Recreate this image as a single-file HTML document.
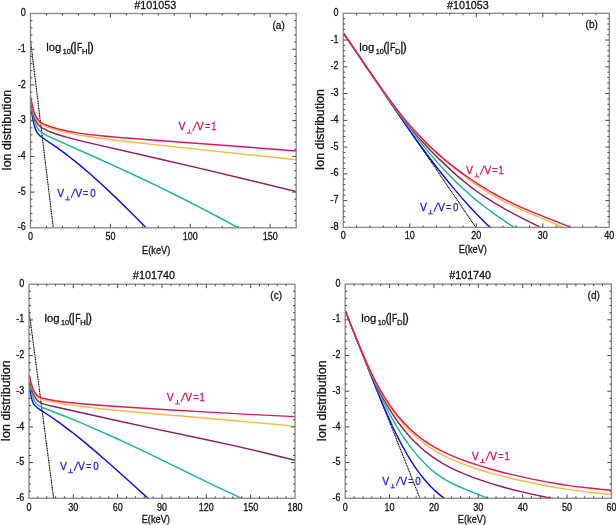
<!DOCTYPE html><html><head><meta charset="utf-8"><title>Ion distribution</title><style>html,body{margin:0;padding:0;background:#fff;overflow:hidden}svg{display:block;will-change:transform}</style></head><body><svg width="616" height="525" viewBox="0 0 616 525" font-family='"Liberation Sans", sans-serif'>
<rect width="616" height="525" fill="#fff"/>
<clipPath id="cla"><rect x="30.5" y="13.5" width="265.7" height="214.3"/></clipPath>
<clipPath id="clb"><rect x="343.3" y="13.3" width="266" height="214.1"/></clipPath>
<clipPath id="clc"><rect x="29" y="284.2" width="266" height="214.1"/></clipPath>
<clipPath id="cld"><rect x="345.2" y="284.1" width="266.2" height="214.2"/></clipPath>
<g clip-path="url(#cla)">
<path d="M29.94 41.00a0.66 0.66 0 1 0 1.32 0a0.66 0.66 0 1 0 -1.32 0M30.15 42.69a0.66 0.66 0 1 0 1.32 0a0.66 0.66 0 1 0 -1.32 0M30.35 44.38a0.66 0.66 0 1 0 1.32 0a0.66 0.66 0 1 0 -1.32 0M30.56 46.06a0.66 0.66 0 1 0 1.32 0a0.66 0.66 0 1 0 -1.32 0M30.76 47.75a0.66 0.66 0 1 0 1.32 0a0.66 0.66 0 1 0 -1.32 0M30.97 49.44a0.66 0.66 0 1 0 1.32 0a0.66 0.66 0 1 0 -1.32 0M31.17 51.13a0.66 0.66 0 1 0 1.32 0a0.66 0.66 0 1 0 -1.32 0M31.38 52.81a0.66 0.66 0 1 0 1.32 0a0.66 0.66 0 1 0 -1.32 0M31.58 54.50a0.66 0.66 0 1 0 1.32 0a0.66 0.66 0 1 0 -1.32 0M31.79 56.19a0.66 0.66 0 1 0 1.32 0a0.66 0.66 0 1 0 -1.32 0M31.99 57.88a0.66 0.66 0 1 0 1.32 0a0.66 0.66 0 1 0 -1.32 0M32.20 59.56a0.66 0.66 0 1 0 1.32 0a0.66 0.66 0 1 0 -1.32 0M32.40 61.25a0.66 0.66 0 1 0 1.32 0a0.66 0.66 0 1 0 -1.32 0M32.61 62.94a0.66 0.66 0 1 0 1.32 0a0.66 0.66 0 1 0 -1.32 0M32.81 64.63a0.66 0.66 0 1 0 1.32 0a0.66 0.66 0 1 0 -1.32 0M33.02 66.31a0.66 0.66 0 1 0 1.32 0a0.66 0.66 0 1 0 -1.32 0M33.22 68.00a0.66 0.66 0 1 0 1.32 0a0.66 0.66 0 1 0 -1.32 0M33.43 69.69a0.66 0.66 0 1 0 1.32 0a0.66 0.66 0 1 0 -1.32 0M33.63 71.38a0.66 0.66 0 1 0 1.32 0a0.66 0.66 0 1 0 -1.32 0M33.84 73.06a0.66 0.66 0 1 0 1.32 0a0.66 0.66 0 1 0 -1.32 0M34.04 74.75a0.66 0.66 0 1 0 1.32 0a0.66 0.66 0 1 0 -1.32 0M34.25 76.44a0.66 0.66 0 1 0 1.32 0a0.66 0.66 0 1 0 -1.32 0M34.45 78.13a0.66 0.66 0 1 0 1.32 0a0.66 0.66 0 1 0 -1.32 0M34.66 79.81a0.66 0.66 0 1 0 1.32 0a0.66 0.66 0 1 0 -1.32 0M34.86 81.50a0.66 0.66 0 1 0 1.32 0a0.66 0.66 0 1 0 -1.32 0M35.07 83.19a0.66 0.66 0 1 0 1.32 0a0.66 0.66 0 1 0 -1.32 0M35.27 84.88a0.66 0.66 0 1 0 1.32 0a0.66 0.66 0 1 0 -1.32 0M35.48 86.56a0.66 0.66 0 1 0 1.32 0a0.66 0.66 0 1 0 -1.32 0M35.68 88.25a0.66 0.66 0 1 0 1.32 0a0.66 0.66 0 1 0 -1.32 0M35.89 89.94a0.66 0.66 0 1 0 1.32 0a0.66 0.66 0 1 0 -1.32 0M36.09 91.63a0.66 0.66 0 1 0 1.32 0a0.66 0.66 0 1 0 -1.32 0M36.30 93.32a0.66 0.66 0 1 0 1.32 0a0.66 0.66 0 1 0 -1.32 0M36.50 95.00a0.66 0.66 0 1 0 1.32 0a0.66 0.66 0 1 0 -1.32 0M36.71 96.69a0.66 0.66 0 1 0 1.32 0a0.66 0.66 0 1 0 -1.32 0M36.91 98.38a0.66 0.66 0 1 0 1.32 0a0.66 0.66 0 1 0 -1.32 0M37.12 100.07a0.66 0.66 0 1 0 1.32 0a0.66 0.66 0 1 0 -1.32 0M37.32 101.75a0.66 0.66 0 1 0 1.32 0a0.66 0.66 0 1 0 -1.32 0M37.53 103.44a0.66 0.66 0 1 0 1.32 0a0.66 0.66 0 1 0 -1.32 0M37.73 105.13a0.66 0.66 0 1 0 1.32 0a0.66 0.66 0 1 0 -1.32 0M37.94 106.82a0.66 0.66 0 1 0 1.32 0a0.66 0.66 0 1 0 -1.32 0M38.14 108.50a0.66 0.66 0 1 0 1.32 0a0.66 0.66 0 1 0 -1.32 0M38.35 110.19a0.66 0.66 0 1 0 1.32 0a0.66 0.66 0 1 0 -1.32 0M38.55 111.88a0.66 0.66 0 1 0 1.32 0a0.66 0.66 0 1 0 -1.32 0M38.76 113.57a0.66 0.66 0 1 0 1.32 0a0.66 0.66 0 1 0 -1.32 0M38.96 115.25a0.66 0.66 0 1 0 1.32 0a0.66 0.66 0 1 0 -1.32 0M39.17 116.94a0.66 0.66 0 1 0 1.32 0a0.66 0.66 0 1 0 -1.32 0M39.37 118.63a0.66 0.66 0 1 0 1.32 0a0.66 0.66 0 1 0 -1.32 0M39.58 120.32a0.66 0.66 0 1 0 1.32 0a0.66 0.66 0 1 0 -1.32 0M39.78 122.00a0.66 0.66 0 1 0 1.32 0a0.66 0.66 0 1 0 -1.32 0M39.99 123.69a0.66 0.66 0 1 0 1.32 0a0.66 0.66 0 1 0 -1.32 0M40.19 125.38a0.66 0.66 0 1 0 1.32 0a0.66 0.66 0 1 0 -1.32 0M40.40 127.07a0.66 0.66 0 1 0 1.32 0a0.66 0.66 0 1 0 -1.32 0M40.60 128.75a0.66 0.66 0 1 0 1.32 0a0.66 0.66 0 1 0 -1.32 0M40.81 130.44a0.66 0.66 0 1 0 1.32 0a0.66 0.66 0 1 0 -1.32 0M41.01 132.13a0.66 0.66 0 1 0 1.32 0a0.66 0.66 0 1 0 -1.32 0M41.22 133.82a0.66 0.66 0 1 0 1.32 0a0.66 0.66 0 1 0 -1.32 0M41.42 135.50a0.66 0.66 0 1 0 1.32 0a0.66 0.66 0 1 0 -1.32 0M41.63 137.19a0.66 0.66 0 1 0 1.32 0a0.66 0.66 0 1 0 -1.32 0M41.83 138.88a0.66 0.66 0 1 0 1.32 0a0.66 0.66 0 1 0 -1.32 0M42.04 140.57a0.66 0.66 0 1 0 1.32 0a0.66 0.66 0 1 0 -1.32 0M42.24 142.26a0.66 0.66 0 1 0 1.32 0a0.66 0.66 0 1 0 -1.32 0M42.45 143.94a0.66 0.66 0 1 0 1.32 0a0.66 0.66 0 1 0 -1.32 0M42.65 145.63a0.66 0.66 0 1 0 1.32 0a0.66 0.66 0 1 0 -1.32 0M42.86 147.32a0.66 0.66 0 1 0 1.32 0a0.66 0.66 0 1 0 -1.32 0M43.06 149.01a0.66 0.66 0 1 0 1.32 0a0.66 0.66 0 1 0 -1.32 0M43.27 150.69a0.66 0.66 0 1 0 1.32 0a0.66 0.66 0 1 0 -1.32 0M43.48 152.38a0.66 0.66 0 1 0 1.32 0a0.66 0.66 0 1 0 -1.32 0M43.68 154.07a0.66 0.66 0 1 0 1.32 0a0.66 0.66 0 1 0 -1.32 0M43.89 155.76a0.66 0.66 0 1 0 1.32 0a0.66 0.66 0 1 0 -1.32 0M44.09 157.44a0.66 0.66 0 1 0 1.32 0a0.66 0.66 0 1 0 -1.32 0M44.30 159.13a0.66 0.66 0 1 0 1.32 0a0.66 0.66 0 1 0 -1.32 0M44.50 160.82a0.66 0.66 0 1 0 1.32 0a0.66 0.66 0 1 0 -1.32 0M44.71 162.51a0.66 0.66 0 1 0 1.32 0a0.66 0.66 0 1 0 -1.32 0M44.91 164.19a0.66 0.66 0 1 0 1.32 0a0.66 0.66 0 1 0 -1.32 0M45.12 165.88a0.66 0.66 0 1 0 1.32 0a0.66 0.66 0 1 0 -1.32 0M45.32 167.57a0.66 0.66 0 1 0 1.32 0a0.66 0.66 0 1 0 -1.32 0M45.53 169.26a0.66 0.66 0 1 0 1.32 0a0.66 0.66 0 1 0 -1.32 0M45.73 170.94a0.66 0.66 0 1 0 1.32 0a0.66 0.66 0 1 0 -1.32 0M45.94 172.63a0.66 0.66 0 1 0 1.32 0a0.66 0.66 0 1 0 -1.32 0M46.14 174.32a0.66 0.66 0 1 0 1.32 0a0.66 0.66 0 1 0 -1.32 0M46.35 176.01a0.66 0.66 0 1 0 1.32 0a0.66 0.66 0 1 0 -1.32 0M46.55 177.69a0.66 0.66 0 1 0 1.32 0a0.66 0.66 0 1 0 -1.32 0M46.76 179.38a0.66 0.66 0 1 0 1.32 0a0.66 0.66 0 1 0 -1.32 0M46.96 181.07a0.66 0.66 0 1 0 1.32 0a0.66 0.66 0 1 0 -1.32 0M47.17 182.76a0.66 0.66 0 1 0 1.32 0a0.66 0.66 0 1 0 -1.32 0M47.37 184.44a0.66 0.66 0 1 0 1.32 0a0.66 0.66 0 1 0 -1.32 0M47.58 186.13a0.66 0.66 0 1 0 1.32 0a0.66 0.66 0 1 0 -1.32 0M47.78 187.82a0.66 0.66 0 1 0 1.32 0a0.66 0.66 0 1 0 -1.32 0M47.99 189.51a0.66 0.66 0 1 0 1.32 0a0.66 0.66 0 1 0 -1.32 0M48.19 191.20a0.66 0.66 0 1 0 1.32 0a0.66 0.66 0 1 0 -1.32 0M48.40 192.88a0.66 0.66 0 1 0 1.32 0a0.66 0.66 0 1 0 -1.32 0M48.60 194.57a0.66 0.66 0 1 0 1.32 0a0.66 0.66 0 1 0 -1.32 0M48.81 196.26a0.66 0.66 0 1 0 1.32 0a0.66 0.66 0 1 0 -1.32 0M49.01 197.95a0.66 0.66 0 1 0 1.32 0a0.66 0.66 0 1 0 -1.32 0M49.22 199.63a0.66 0.66 0 1 0 1.32 0a0.66 0.66 0 1 0 -1.32 0M49.42 201.32a0.66 0.66 0 1 0 1.32 0a0.66 0.66 0 1 0 -1.32 0M49.63 203.01a0.66 0.66 0 1 0 1.32 0a0.66 0.66 0 1 0 -1.32 0M49.83 204.70a0.66 0.66 0 1 0 1.32 0a0.66 0.66 0 1 0 -1.32 0M50.04 206.38a0.66 0.66 0 1 0 1.32 0a0.66 0.66 0 1 0 -1.32 0M50.24 208.07a0.66 0.66 0 1 0 1.32 0a0.66 0.66 0 1 0 -1.32 0M50.45 209.76a0.66 0.66 0 1 0 1.32 0a0.66 0.66 0 1 0 -1.32 0M50.65 211.45a0.66 0.66 0 1 0 1.32 0a0.66 0.66 0 1 0 -1.32 0M50.86 213.13a0.66 0.66 0 1 0 1.32 0a0.66 0.66 0 1 0 -1.32 0M51.06 214.82a0.66 0.66 0 1 0 1.32 0a0.66 0.66 0 1 0 -1.32 0M51.27 216.51a0.66 0.66 0 1 0 1.32 0a0.66 0.66 0 1 0 -1.32 0M51.47 218.20a0.66 0.66 0 1 0 1.32 0a0.66 0.66 0 1 0 -1.32 0M51.68 219.88a0.66 0.66 0 1 0 1.32 0a0.66 0.66 0 1 0 -1.32 0M51.88 221.57a0.66 0.66 0 1 0 1.32 0a0.66 0.66 0 1 0 -1.32 0M52.09 223.26a0.66 0.66 0 1 0 1.32 0a0.66 0.66 0 1 0 -1.32 0M52.29 224.95a0.66 0.66 0 1 0 1.32 0a0.66 0.66 0 1 0 -1.32 0M52.50 226.63a0.66 0.66 0 1 0 1.32 0a0.66 0.66 0 1 0 -1.32 0M52.70 228.32a0.66 0.66 0 1 0 1.32 0a0.66 0.66 0 1 0 -1.32 0M52.91 230.01a0.66 0.66 0 1 0 1.32 0a0.66 0.66 0 1 0 -1.32 0M53.11 231.70a0.66 0.66 0 1 0 1.32 0a0.66 0.66 0 1 0 -1.32 0" fill="#000"/>
<path d="M30.5 105.2 L32.5 117.5 L33.4 121.9 L34.4 125.9 L35.4 128.9 L36.4 131.2 L37.5 133.1 L38.9 134.8 L40.3 136.1 L42.1 137.5 L55.6 146.6 L66.7 154.7 L77.7 163.4 L89.1 173.0 L101.9 184.5 L115.8 197.6 L131.7 213.2 L149.2 230.9" stroke="#0c0cfa" stroke-width="1.45" fill="none" stroke-linejoin="round"/>
<path d="M30.5 102.4 L32.0 110.3 L33.3 116.2 L34.6 121.0 L35.9 124.7 L37.3 127.6 L38.9 130.0 L40.8 131.9 L43.3 133.6 L47.0 135.6 L53.6 138.7 L96.9 158.0 L118.7 167.9 L137.3 176.5 L155.5 185.2 L177.5 196.0 L199.3 207.1 L221.1 218.5 L242.9 230.3" stroke="#16bf7c" stroke-width="1.45" fill="none" stroke-linejoin="round"/>
<path d="M30.5 99.5 L32.3 108.7 L34.0 115.4 L34.9 118.2 L35.8 120.4 L36.8 122.4 L37.8 124.0 L38.9 125.3 L40.2 126.6 L41.7 127.7 L43.4 128.7 L48.4 131.1 L55.2 133.7 L60.9 135.5 L67.3 137.4 L83.8 141.6 L161.7 159.5 L202.2 168.9 L250.8 180.5 L299.4 192.3" stroke="#9a1c5c" stroke-width="1.45" fill="none" stroke-linejoin="round"/>
<path d="M30.5 97.8 L32.4 107.4 L33.3 111.0 L34.3 114.4 L35.3 117.1 L36.3 119.1 L37.4 120.9 L38.7 122.4 L40.1 123.5 L41.9 124.7 L44.2 125.8 L47.2 127.0 L55.8 129.7 L65.5 132.3 L75.5 134.4 L87.0 136.3 L100.7 138.3 L118.0 140.5 L173.0 146.6 L299.4 160.1" stroke="#f7bb42" stroke-width="1.45" fill="none" stroke-linejoin="round"/>
<path d="M30.5 96.6 L32.6 106.4 L33.6 110.2 L34.6 113.2 L35.6 115.7 L36.7 117.9 L37.9 119.6 L39.3 121.1 L41.0 122.5 L43.0 123.6 L45.6 124.8 L49.0 126.1 L53.3 127.5 L58.0 128.9 L68.1 131.2 L77.5 132.9 L88.2 134.4 L100.7 135.8 L116.3 137.3 L148.6 139.8 L299.4 151.1" stroke="#e5165a" stroke-width="1.45" fill="none" stroke-linejoin="round"/>
</g>
<g clip-path="url(#clb)">
<path d="M342.64 33.00a0.66 0.66 0 1 0 1.32 0a0.66 0.66 0 1 0 -1.32 0M343.60 34.40a0.66 0.66 0 1 0 1.32 0a0.66 0.66 0 1 0 -1.32 0M344.56 35.81a0.66 0.66 0 1 0 1.32 0a0.66 0.66 0 1 0 -1.32 0M345.51 37.21a0.66 0.66 0 1 0 1.32 0a0.66 0.66 0 1 0 -1.32 0M346.47 38.62a0.66 0.66 0 1 0 1.32 0a0.66 0.66 0 1 0 -1.32 0M347.43 40.02a0.66 0.66 0 1 0 1.32 0a0.66 0.66 0 1 0 -1.32 0M348.39 41.43a0.66 0.66 0 1 0 1.32 0a0.66 0.66 0 1 0 -1.32 0M349.34 42.83a0.66 0.66 0 1 0 1.32 0a0.66 0.66 0 1 0 -1.32 0M350.30 44.24a0.66 0.66 0 1 0 1.32 0a0.66 0.66 0 1 0 -1.32 0M351.26 45.64a0.66 0.66 0 1 0 1.32 0a0.66 0.66 0 1 0 -1.32 0M352.22 47.05a0.66 0.66 0 1 0 1.32 0a0.66 0.66 0 1 0 -1.32 0M353.17 48.45a0.66 0.66 0 1 0 1.32 0a0.66 0.66 0 1 0 -1.32 0M354.13 49.86a0.66 0.66 0 1 0 1.32 0a0.66 0.66 0 1 0 -1.32 0M355.09 51.26a0.66 0.66 0 1 0 1.32 0a0.66 0.66 0 1 0 -1.32 0M356.05 52.66a0.66 0.66 0 1 0 1.32 0a0.66 0.66 0 1 0 -1.32 0M357.00 54.07a0.66 0.66 0 1 0 1.32 0a0.66 0.66 0 1 0 -1.32 0M357.96 55.47a0.66 0.66 0 1 0 1.32 0a0.66 0.66 0 1 0 -1.32 0M358.92 56.88a0.66 0.66 0 1 0 1.32 0a0.66 0.66 0 1 0 -1.32 0M359.88 58.28a0.66 0.66 0 1 0 1.32 0a0.66 0.66 0 1 0 -1.32 0M360.83 59.69a0.66 0.66 0 1 0 1.32 0a0.66 0.66 0 1 0 -1.32 0M361.79 61.09a0.66 0.66 0 1 0 1.32 0a0.66 0.66 0 1 0 -1.32 0M362.75 62.50a0.66 0.66 0 1 0 1.32 0a0.66 0.66 0 1 0 -1.32 0M363.71 63.90a0.66 0.66 0 1 0 1.32 0a0.66 0.66 0 1 0 -1.32 0M364.67 65.31a0.66 0.66 0 1 0 1.32 0a0.66 0.66 0 1 0 -1.32 0M365.62 66.71a0.66 0.66 0 1 0 1.32 0a0.66 0.66 0 1 0 -1.32 0M366.58 68.12a0.66 0.66 0 1 0 1.32 0a0.66 0.66 0 1 0 -1.32 0M367.54 69.52a0.66 0.66 0 1 0 1.32 0a0.66 0.66 0 1 0 -1.32 0M368.50 70.92a0.66 0.66 0 1 0 1.32 0a0.66 0.66 0 1 0 -1.32 0M369.45 72.33a0.66 0.66 0 1 0 1.32 0a0.66 0.66 0 1 0 -1.32 0M370.41 73.73a0.66 0.66 0 1 0 1.32 0a0.66 0.66 0 1 0 -1.32 0M371.37 75.14a0.66 0.66 0 1 0 1.32 0a0.66 0.66 0 1 0 -1.32 0M372.33 76.54a0.66 0.66 0 1 0 1.32 0a0.66 0.66 0 1 0 -1.32 0M373.28 77.95a0.66 0.66 0 1 0 1.32 0a0.66 0.66 0 1 0 -1.32 0M374.24 79.35a0.66 0.66 0 1 0 1.32 0a0.66 0.66 0 1 0 -1.32 0M375.20 80.76a0.66 0.66 0 1 0 1.32 0a0.66 0.66 0 1 0 -1.32 0M376.16 82.16a0.66 0.66 0 1 0 1.32 0a0.66 0.66 0 1 0 -1.32 0M377.11 83.57a0.66 0.66 0 1 0 1.32 0a0.66 0.66 0 1 0 -1.32 0M378.07 84.97a0.66 0.66 0 1 0 1.32 0a0.66 0.66 0 1 0 -1.32 0M379.03 86.38a0.66 0.66 0 1 0 1.32 0a0.66 0.66 0 1 0 -1.32 0M379.99 87.78a0.66 0.66 0 1 0 1.32 0a0.66 0.66 0 1 0 -1.32 0M380.95 89.18a0.66 0.66 0 1 0 1.32 0a0.66 0.66 0 1 0 -1.32 0M381.90 90.59a0.66 0.66 0 1 0 1.32 0a0.66 0.66 0 1 0 -1.32 0M382.86 91.99a0.66 0.66 0 1 0 1.32 0a0.66 0.66 0 1 0 -1.32 0M383.82 93.40a0.66 0.66 0 1 0 1.32 0a0.66 0.66 0 1 0 -1.32 0M384.78 94.80a0.66 0.66 0 1 0 1.32 0a0.66 0.66 0 1 0 -1.32 0M385.73 96.21a0.66 0.66 0 1 0 1.32 0a0.66 0.66 0 1 0 -1.32 0M386.69 97.61a0.66 0.66 0 1 0 1.32 0a0.66 0.66 0 1 0 -1.32 0M387.65 99.02a0.66 0.66 0 1 0 1.32 0a0.66 0.66 0 1 0 -1.32 0M388.61 100.42a0.66 0.66 0 1 0 1.32 0a0.66 0.66 0 1 0 -1.32 0M389.56 101.83a0.66 0.66 0 1 0 1.32 0a0.66 0.66 0 1 0 -1.32 0M390.52 103.23a0.66 0.66 0 1 0 1.32 0a0.66 0.66 0 1 0 -1.32 0M391.48 104.64a0.66 0.66 0 1 0 1.32 0a0.66 0.66 0 1 0 -1.32 0M392.44 106.04a0.66 0.66 0 1 0 1.32 0a0.66 0.66 0 1 0 -1.32 0M393.39 107.44a0.66 0.66 0 1 0 1.32 0a0.66 0.66 0 1 0 -1.32 0M394.35 108.85a0.66 0.66 0 1 0 1.32 0a0.66 0.66 0 1 0 -1.32 0M395.31 110.25a0.66 0.66 0 1 0 1.32 0a0.66 0.66 0 1 0 -1.32 0M396.27 111.66a0.66 0.66 0 1 0 1.32 0a0.66 0.66 0 1 0 -1.32 0M397.22 113.06a0.66 0.66 0 1 0 1.32 0a0.66 0.66 0 1 0 -1.32 0M398.18 114.47a0.66 0.66 0 1 0 1.32 0a0.66 0.66 0 1 0 -1.32 0M399.14 115.87a0.66 0.66 0 1 0 1.32 0a0.66 0.66 0 1 0 -1.32 0M400.10 117.28a0.66 0.66 0 1 0 1.32 0a0.66 0.66 0 1 0 -1.32 0M401.06 118.68a0.66 0.66 0 1 0 1.32 0a0.66 0.66 0 1 0 -1.32 0M402.01 120.09a0.66 0.66 0 1 0 1.32 0a0.66 0.66 0 1 0 -1.32 0M402.97 121.49a0.66 0.66 0 1 0 1.32 0a0.66 0.66 0 1 0 -1.32 0M403.93 122.90a0.66 0.66 0 1 0 1.32 0a0.66 0.66 0 1 0 -1.32 0M404.89 124.30a0.66 0.66 0 1 0 1.32 0a0.66 0.66 0 1 0 -1.32 0M405.84 125.70a0.66 0.66 0 1 0 1.32 0a0.66 0.66 0 1 0 -1.32 0M406.80 127.11a0.66 0.66 0 1 0 1.32 0a0.66 0.66 0 1 0 -1.32 0M407.76 128.51a0.66 0.66 0 1 0 1.32 0a0.66 0.66 0 1 0 -1.32 0M408.72 129.92a0.66 0.66 0 1 0 1.32 0a0.66 0.66 0 1 0 -1.32 0M409.67 131.32a0.66 0.66 0 1 0 1.32 0a0.66 0.66 0 1 0 -1.32 0M410.63 132.73a0.66 0.66 0 1 0 1.32 0a0.66 0.66 0 1 0 -1.32 0M411.59 134.13a0.66 0.66 0 1 0 1.32 0a0.66 0.66 0 1 0 -1.32 0M412.55 135.54a0.66 0.66 0 1 0 1.32 0a0.66 0.66 0 1 0 -1.32 0M413.50 136.94a0.66 0.66 0 1 0 1.32 0a0.66 0.66 0 1 0 -1.32 0M414.46 138.35a0.66 0.66 0 1 0 1.32 0a0.66 0.66 0 1 0 -1.32 0M415.42 139.75a0.66 0.66 0 1 0 1.32 0a0.66 0.66 0 1 0 -1.32 0M416.38 141.16a0.66 0.66 0 1 0 1.32 0a0.66 0.66 0 1 0 -1.32 0M417.33 142.56a0.66 0.66 0 1 0 1.32 0a0.66 0.66 0 1 0 -1.32 0M418.29 143.96a0.66 0.66 0 1 0 1.32 0a0.66 0.66 0 1 0 -1.32 0M419.25 145.37a0.66 0.66 0 1 0 1.32 0a0.66 0.66 0 1 0 -1.32 0M420.21 146.77a0.66 0.66 0 1 0 1.32 0a0.66 0.66 0 1 0 -1.32 0M421.17 148.18a0.66 0.66 0 1 0 1.32 0a0.66 0.66 0 1 0 -1.32 0M422.12 149.58a0.66 0.66 0 1 0 1.32 0a0.66 0.66 0 1 0 -1.32 0M423.08 150.99a0.66 0.66 0 1 0 1.32 0a0.66 0.66 0 1 0 -1.32 0M424.04 152.39a0.66 0.66 0 1 0 1.32 0a0.66 0.66 0 1 0 -1.32 0M425.00 153.80a0.66 0.66 0 1 0 1.32 0a0.66 0.66 0 1 0 -1.32 0M425.95 155.20a0.66 0.66 0 1 0 1.32 0a0.66 0.66 0 1 0 -1.32 0M426.91 156.61a0.66 0.66 0 1 0 1.32 0a0.66 0.66 0 1 0 -1.32 0M427.87 158.01a0.66 0.66 0 1 0 1.32 0a0.66 0.66 0 1 0 -1.32 0M428.83 159.42a0.66 0.66 0 1 0 1.32 0a0.66 0.66 0 1 0 -1.32 0M429.78 160.82a0.66 0.66 0 1 0 1.32 0a0.66 0.66 0 1 0 -1.32 0M430.74 162.22a0.66 0.66 0 1 0 1.32 0a0.66 0.66 0 1 0 -1.32 0M431.70 163.63a0.66 0.66 0 1 0 1.32 0a0.66 0.66 0 1 0 -1.32 0M432.66 165.03a0.66 0.66 0 1 0 1.32 0a0.66 0.66 0 1 0 -1.32 0M433.61 166.44a0.66 0.66 0 1 0 1.32 0a0.66 0.66 0 1 0 -1.32 0M434.57 167.84a0.66 0.66 0 1 0 1.32 0a0.66 0.66 0 1 0 -1.32 0M435.53 169.25a0.66 0.66 0 1 0 1.32 0a0.66 0.66 0 1 0 -1.32 0M436.49 170.65a0.66 0.66 0 1 0 1.32 0a0.66 0.66 0 1 0 -1.32 0M437.45 172.06a0.66 0.66 0 1 0 1.32 0a0.66 0.66 0 1 0 -1.32 0M438.40 173.46a0.66 0.66 0 1 0 1.32 0a0.66 0.66 0 1 0 -1.32 0M439.36 174.87a0.66 0.66 0 1 0 1.32 0a0.66 0.66 0 1 0 -1.32 0M440.32 176.27a0.66 0.66 0 1 0 1.32 0a0.66 0.66 0 1 0 -1.32 0M441.28 177.68a0.66 0.66 0 1 0 1.32 0a0.66 0.66 0 1 0 -1.32 0M442.23 179.08a0.66 0.66 0 1 0 1.32 0a0.66 0.66 0 1 0 -1.32 0M443.19 180.48a0.66 0.66 0 1 0 1.32 0a0.66 0.66 0 1 0 -1.32 0M444.15 181.89a0.66 0.66 0 1 0 1.32 0a0.66 0.66 0 1 0 -1.32 0M445.11 183.29a0.66 0.66 0 1 0 1.32 0a0.66 0.66 0 1 0 -1.32 0M446.06 184.70a0.66 0.66 0 1 0 1.32 0a0.66 0.66 0 1 0 -1.32 0M447.02 186.10a0.66 0.66 0 1 0 1.32 0a0.66 0.66 0 1 0 -1.32 0M447.98 187.51a0.66 0.66 0 1 0 1.32 0a0.66 0.66 0 1 0 -1.32 0M448.94 188.91a0.66 0.66 0 1 0 1.32 0a0.66 0.66 0 1 0 -1.32 0M449.89 190.32a0.66 0.66 0 1 0 1.32 0a0.66 0.66 0 1 0 -1.32 0M450.85 191.72a0.66 0.66 0 1 0 1.32 0a0.66 0.66 0 1 0 -1.32 0M451.81 193.13a0.66 0.66 0 1 0 1.32 0a0.66 0.66 0 1 0 -1.32 0M452.77 194.53a0.66 0.66 0 1 0 1.32 0a0.66 0.66 0 1 0 -1.32 0M453.72 195.94a0.66 0.66 0 1 0 1.32 0a0.66 0.66 0 1 0 -1.32 0M454.68 197.34a0.66 0.66 0 1 0 1.32 0a0.66 0.66 0 1 0 -1.32 0M455.64 198.74a0.66 0.66 0 1 0 1.32 0a0.66 0.66 0 1 0 -1.32 0M456.60 200.15a0.66 0.66 0 1 0 1.32 0a0.66 0.66 0 1 0 -1.32 0M457.56 201.55a0.66 0.66 0 1 0 1.32 0a0.66 0.66 0 1 0 -1.32 0M458.51 202.96a0.66 0.66 0 1 0 1.32 0a0.66 0.66 0 1 0 -1.32 0M459.47 204.36a0.66 0.66 0 1 0 1.32 0a0.66 0.66 0 1 0 -1.32 0M460.43 205.77a0.66 0.66 0 1 0 1.32 0a0.66 0.66 0 1 0 -1.32 0M461.39 207.17a0.66 0.66 0 1 0 1.32 0a0.66 0.66 0 1 0 -1.32 0M462.34 208.58a0.66 0.66 0 1 0 1.32 0a0.66 0.66 0 1 0 -1.32 0M463.30 209.98a0.66 0.66 0 1 0 1.32 0a0.66 0.66 0 1 0 -1.32 0M464.26 211.39a0.66 0.66 0 1 0 1.32 0a0.66 0.66 0 1 0 -1.32 0M465.22 212.79a0.66 0.66 0 1 0 1.32 0a0.66 0.66 0 1 0 -1.32 0M466.17 214.20a0.66 0.66 0 1 0 1.32 0a0.66 0.66 0 1 0 -1.32 0M467.13 215.60a0.66 0.66 0 1 0 1.32 0a0.66 0.66 0 1 0 -1.32 0M468.09 217.00a0.66 0.66 0 1 0 1.32 0a0.66 0.66 0 1 0 -1.32 0M469.05 218.41a0.66 0.66 0 1 0 1.32 0a0.66 0.66 0 1 0 -1.32 0M470.00 219.81a0.66 0.66 0 1 0 1.32 0a0.66 0.66 0 1 0 -1.32 0M470.96 221.22a0.66 0.66 0 1 0 1.32 0a0.66 0.66 0 1 0 -1.32 0M471.92 222.62a0.66 0.66 0 1 0 1.32 0a0.66 0.66 0 1 0 -1.32 0M472.88 224.03a0.66 0.66 0 1 0 1.32 0a0.66 0.66 0 1 0 -1.32 0M473.83 225.43a0.66 0.66 0 1 0 1.32 0a0.66 0.66 0 1 0 -1.32 0M474.79 226.84a0.66 0.66 0 1 0 1.32 0a0.66 0.66 0 1 0 -1.32 0M475.75 228.24a0.66 0.66 0 1 0 1.32 0a0.66 0.66 0 1 0 -1.32 0M476.71 229.65a0.66 0.66 0 1 0 1.32 0a0.66 0.66 0 1 0 -1.32 0" fill="#000"/>
<path d="M343.3 33.0 L352.3 45.9 L361.8 59.8 L392.6 105.8 L404.3 122.9 L417.4 141.5 L430.2 158.8 L438.6 169.7 L446.8 180.0 L454.7 189.6 L462.3 198.4 L469.5 206.4 L476.8 214.2 L484.4 221.9 L493.1 230.5" stroke="#0c0cfa" stroke-width="1.45" fill="none" stroke-linejoin="round"/>
<path d="M343.3 32.7 L357.7 54.5 L371.6 75.0 L384.9 94.2 L397.3 111.5 L408.7 126.9 L419.2 140.6 L429.0 152.6 L438.4 163.6 L447.3 173.2 L456.1 182.1 L465.1 190.5 L474.4 198.6 L484.3 206.5 L495.0 214.4 L506.5 222.3 L518.9 230.3" stroke="#16bf7c" stroke-width="1.45" fill="none" stroke-linejoin="round"/>
<path d="M343.3 33.0 L381.4 88.7 L391.9 103.5 L401.0 115.7 L410.5 127.8 L419.9 138.9 L429.6 149.4 L440.0 159.9 L451.7 170.9 L457.6 176.1 L463.3 180.9 L468.8 185.3 L474.3 189.5 L479.8 193.5 L485.3 197.2 L495.6 203.7 L507.2 210.3 L519.6 216.8 L545.9 230.1" stroke="#9a1c5c" stroke-width="1.45" fill="none" stroke-linejoin="round"/>
<path d="M343.3 33.0 L370.7 73.1 L381.6 88.8 L392.0 103.3 L401.0 115.2 L405.7 121.0 L410.3 126.5 L414.9 131.7 L419.6 136.7 L424.5 141.7 L429.6 146.7 L435.1 151.8 L440.9 157.0 L447.9 163.0 L455.1 168.9 L462.3 174.5 L469.2 179.7 L475.6 184.3 L481.9 188.5 L488.1 192.4 L494.3 196.1 L505.3 202.0 L517.8 208.0 L528.6 212.7 L555.2 224.0 L568.9 229.9" stroke="#f7bb42" stroke-width="1.45" fill="none" stroke-linejoin="round"/>
<path d="M343.3 33.0 L364.9 64.7 L379.2 85.3 L391.0 101.6 L401.3 115.0 L406.4 121.2 L411.4 127.1 L416.4 132.6 L421.5 138.0 L426.7 143.3 L432.0 148.3 L437.6 153.4 L443.5 158.5 L450.2 164.0 L457.2 169.4 L464.2 174.6 L471.2 179.5 L478.1 184.1 L485.0 188.4 L491.9 192.5 L498.9 196.4 L505.6 199.8 L512.7 203.3 L520.2 206.8 L528.4 210.3 L546.9 217.9 L576.9 229.7" stroke="#e5165a" stroke-width="1.45" fill="none" stroke-linejoin="round"/>
</g>
<g clip-path="url(#clc)">
<path d="M28.34 310.50a0.66 0.66 0 1 0 1.32 0a0.66 0.66 0 1 0 -1.32 0M28.56 312.19a0.66 0.66 0 1 0 1.32 0a0.66 0.66 0 1 0 -1.32 0M28.78 313.87a0.66 0.66 0 1 0 1.32 0a0.66 0.66 0 1 0 -1.32 0M29.00 315.56a0.66 0.66 0 1 0 1.32 0a0.66 0.66 0 1 0 -1.32 0M29.22 317.24a0.66 0.66 0 1 0 1.32 0a0.66 0.66 0 1 0 -1.32 0M29.44 318.93a0.66 0.66 0 1 0 1.32 0a0.66 0.66 0 1 0 -1.32 0M29.67 320.61a0.66 0.66 0 1 0 1.32 0a0.66 0.66 0 1 0 -1.32 0M29.89 322.30a0.66 0.66 0 1 0 1.32 0a0.66 0.66 0 1 0 -1.32 0M30.11 323.98a0.66 0.66 0 1 0 1.32 0a0.66 0.66 0 1 0 -1.32 0M30.33 325.67a0.66 0.66 0 1 0 1.32 0a0.66 0.66 0 1 0 -1.32 0M30.55 327.36a0.66 0.66 0 1 0 1.32 0a0.66 0.66 0 1 0 -1.32 0M30.77 329.04a0.66 0.66 0 1 0 1.32 0a0.66 0.66 0 1 0 -1.32 0M30.99 330.73a0.66 0.66 0 1 0 1.32 0a0.66 0.66 0 1 0 -1.32 0M31.21 332.41a0.66 0.66 0 1 0 1.32 0a0.66 0.66 0 1 0 -1.32 0M31.43 334.10a0.66 0.66 0 1 0 1.32 0a0.66 0.66 0 1 0 -1.32 0M31.65 335.78a0.66 0.66 0 1 0 1.32 0a0.66 0.66 0 1 0 -1.32 0M31.87 337.47a0.66 0.66 0 1 0 1.32 0a0.66 0.66 0 1 0 -1.32 0M32.10 339.15a0.66 0.66 0 1 0 1.32 0a0.66 0.66 0 1 0 -1.32 0M32.32 340.84a0.66 0.66 0 1 0 1.32 0a0.66 0.66 0 1 0 -1.32 0M32.54 342.53a0.66 0.66 0 1 0 1.32 0a0.66 0.66 0 1 0 -1.32 0M32.76 344.21a0.66 0.66 0 1 0 1.32 0a0.66 0.66 0 1 0 -1.32 0M32.98 345.90a0.66 0.66 0 1 0 1.32 0a0.66 0.66 0 1 0 -1.32 0M33.20 347.58a0.66 0.66 0 1 0 1.32 0a0.66 0.66 0 1 0 -1.32 0M33.42 349.27a0.66 0.66 0 1 0 1.32 0a0.66 0.66 0 1 0 -1.32 0M33.64 350.95a0.66 0.66 0 1 0 1.32 0a0.66 0.66 0 1 0 -1.32 0M33.86 352.64a0.66 0.66 0 1 0 1.32 0a0.66 0.66 0 1 0 -1.32 0M34.08 354.33a0.66 0.66 0 1 0 1.32 0a0.66 0.66 0 1 0 -1.32 0M34.30 356.01a0.66 0.66 0 1 0 1.32 0a0.66 0.66 0 1 0 -1.32 0M34.53 357.70a0.66 0.66 0 1 0 1.32 0a0.66 0.66 0 1 0 -1.32 0M34.75 359.38a0.66 0.66 0 1 0 1.32 0a0.66 0.66 0 1 0 -1.32 0M34.97 361.07a0.66 0.66 0 1 0 1.32 0a0.66 0.66 0 1 0 -1.32 0M35.19 362.75a0.66 0.66 0 1 0 1.32 0a0.66 0.66 0 1 0 -1.32 0M35.41 364.44a0.66 0.66 0 1 0 1.32 0a0.66 0.66 0 1 0 -1.32 0M35.63 366.12a0.66 0.66 0 1 0 1.32 0a0.66 0.66 0 1 0 -1.32 0M35.85 367.81a0.66 0.66 0 1 0 1.32 0a0.66 0.66 0 1 0 -1.32 0M36.07 369.50a0.66 0.66 0 1 0 1.32 0a0.66 0.66 0 1 0 -1.32 0M36.29 371.18a0.66 0.66 0 1 0 1.32 0a0.66 0.66 0 1 0 -1.32 0M36.51 372.87a0.66 0.66 0 1 0 1.32 0a0.66 0.66 0 1 0 -1.32 0M36.73 374.55a0.66 0.66 0 1 0 1.32 0a0.66 0.66 0 1 0 -1.32 0M36.96 376.24a0.66 0.66 0 1 0 1.32 0a0.66 0.66 0 1 0 -1.32 0M37.18 377.92a0.66 0.66 0 1 0 1.32 0a0.66 0.66 0 1 0 -1.32 0M37.40 379.61a0.66 0.66 0 1 0 1.32 0a0.66 0.66 0 1 0 -1.32 0M37.62 381.29a0.66 0.66 0 1 0 1.32 0a0.66 0.66 0 1 0 -1.32 0M37.84 382.98a0.66 0.66 0 1 0 1.32 0a0.66 0.66 0 1 0 -1.32 0M38.06 384.67a0.66 0.66 0 1 0 1.32 0a0.66 0.66 0 1 0 -1.32 0M38.28 386.35a0.66 0.66 0 1 0 1.32 0a0.66 0.66 0 1 0 -1.32 0M38.50 388.04a0.66 0.66 0 1 0 1.32 0a0.66 0.66 0 1 0 -1.32 0M38.72 389.72a0.66 0.66 0 1 0 1.32 0a0.66 0.66 0 1 0 -1.32 0M38.94 391.41a0.66 0.66 0 1 0 1.32 0a0.66 0.66 0 1 0 -1.32 0M39.16 393.09a0.66 0.66 0 1 0 1.32 0a0.66 0.66 0 1 0 -1.32 0M39.39 394.78a0.66 0.66 0 1 0 1.32 0a0.66 0.66 0 1 0 -1.32 0M39.61 396.46a0.66 0.66 0 1 0 1.32 0a0.66 0.66 0 1 0 -1.32 0M39.83 398.15a0.66 0.66 0 1 0 1.32 0a0.66 0.66 0 1 0 -1.32 0M40.05 399.84a0.66 0.66 0 1 0 1.32 0a0.66 0.66 0 1 0 -1.32 0M40.27 401.52a0.66 0.66 0 1 0 1.32 0a0.66 0.66 0 1 0 -1.32 0M40.49 403.21a0.66 0.66 0 1 0 1.32 0a0.66 0.66 0 1 0 -1.32 0M40.71 404.89a0.66 0.66 0 1 0 1.32 0a0.66 0.66 0 1 0 -1.32 0M40.93 406.58a0.66 0.66 0 1 0 1.32 0a0.66 0.66 0 1 0 -1.32 0M41.15 408.26a0.66 0.66 0 1 0 1.32 0a0.66 0.66 0 1 0 -1.32 0M41.37 409.95a0.66 0.66 0 1 0 1.32 0a0.66 0.66 0 1 0 -1.32 0M41.59 411.64a0.66 0.66 0 1 0 1.32 0a0.66 0.66 0 1 0 -1.32 0M41.82 413.32a0.66 0.66 0 1 0 1.32 0a0.66 0.66 0 1 0 -1.32 0M42.04 415.01a0.66 0.66 0 1 0 1.32 0a0.66 0.66 0 1 0 -1.32 0M42.26 416.69a0.66 0.66 0 1 0 1.32 0a0.66 0.66 0 1 0 -1.32 0M42.48 418.38a0.66 0.66 0 1 0 1.32 0a0.66 0.66 0 1 0 -1.32 0M42.70 420.06a0.66 0.66 0 1 0 1.32 0a0.66 0.66 0 1 0 -1.32 0M42.92 421.75a0.66 0.66 0 1 0 1.32 0a0.66 0.66 0 1 0 -1.32 0M43.14 423.43a0.66 0.66 0 1 0 1.32 0a0.66 0.66 0 1 0 -1.32 0M43.36 425.12a0.66 0.66 0 1 0 1.32 0a0.66 0.66 0 1 0 -1.32 0M43.58 426.81a0.66 0.66 0 1 0 1.32 0a0.66 0.66 0 1 0 -1.32 0M43.80 428.49a0.66 0.66 0 1 0 1.32 0a0.66 0.66 0 1 0 -1.32 0M44.02 430.18a0.66 0.66 0 1 0 1.32 0a0.66 0.66 0 1 0 -1.32 0M44.25 431.86a0.66 0.66 0 1 0 1.32 0a0.66 0.66 0 1 0 -1.32 0M44.47 433.55a0.66 0.66 0 1 0 1.32 0a0.66 0.66 0 1 0 -1.32 0M44.69 435.23a0.66 0.66 0 1 0 1.32 0a0.66 0.66 0 1 0 -1.32 0M44.91 436.92a0.66 0.66 0 1 0 1.32 0a0.66 0.66 0 1 0 -1.32 0M45.13 438.60a0.66 0.66 0 1 0 1.32 0a0.66 0.66 0 1 0 -1.32 0M45.35 440.29a0.66 0.66 0 1 0 1.32 0a0.66 0.66 0 1 0 -1.32 0M45.57 441.98a0.66 0.66 0 1 0 1.32 0a0.66 0.66 0 1 0 -1.32 0M45.79 443.66a0.66 0.66 0 1 0 1.32 0a0.66 0.66 0 1 0 -1.32 0M46.01 445.35a0.66 0.66 0 1 0 1.32 0a0.66 0.66 0 1 0 -1.32 0M46.23 447.03a0.66 0.66 0 1 0 1.32 0a0.66 0.66 0 1 0 -1.32 0M46.45 448.72a0.66 0.66 0 1 0 1.32 0a0.66 0.66 0 1 0 -1.32 0M46.68 450.40a0.66 0.66 0 1 0 1.32 0a0.66 0.66 0 1 0 -1.32 0M46.90 452.09a0.66 0.66 0 1 0 1.32 0a0.66 0.66 0 1 0 -1.32 0M47.12 453.77a0.66 0.66 0 1 0 1.32 0a0.66 0.66 0 1 0 -1.32 0M47.34 455.46a0.66 0.66 0 1 0 1.32 0a0.66 0.66 0 1 0 -1.32 0M47.56 457.15a0.66 0.66 0 1 0 1.32 0a0.66 0.66 0 1 0 -1.32 0M47.78 458.83a0.66 0.66 0 1 0 1.32 0a0.66 0.66 0 1 0 -1.32 0M48.00 460.52a0.66 0.66 0 1 0 1.32 0a0.66 0.66 0 1 0 -1.32 0M48.22 462.20a0.66 0.66 0 1 0 1.32 0a0.66 0.66 0 1 0 -1.32 0M48.44 463.89a0.66 0.66 0 1 0 1.32 0a0.66 0.66 0 1 0 -1.32 0M48.66 465.57a0.66 0.66 0 1 0 1.32 0a0.66 0.66 0 1 0 -1.32 0M48.88 467.26a0.66 0.66 0 1 0 1.32 0a0.66 0.66 0 1 0 -1.32 0M49.11 468.95a0.66 0.66 0 1 0 1.32 0a0.66 0.66 0 1 0 -1.32 0M49.33 470.63a0.66 0.66 0 1 0 1.32 0a0.66 0.66 0 1 0 -1.32 0M49.55 472.32a0.66 0.66 0 1 0 1.32 0a0.66 0.66 0 1 0 -1.32 0M49.77 474.00a0.66 0.66 0 1 0 1.32 0a0.66 0.66 0 1 0 -1.32 0M49.99 475.69a0.66 0.66 0 1 0 1.32 0a0.66 0.66 0 1 0 -1.32 0M50.21 477.37a0.66 0.66 0 1 0 1.32 0a0.66 0.66 0 1 0 -1.32 0M50.43 479.06a0.66 0.66 0 1 0 1.32 0a0.66 0.66 0 1 0 -1.32 0M50.65 480.74a0.66 0.66 0 1 0 1.32 0a0.66 0.66 0 1 0 -1.32 0M50.87 482.43a0.66 0.66 0 1 0 1.32 0a0.66 0.66 0 1 0 -1.32 0M51.09 484.12a0.66 0.66 0 1 0 1.32 0a0.66 0.66 0 1 0 -1.32 0M51.31 485.80a0.66 0.66 0 1 0 1.32 0a0.66 0.66 0 1 0 -1.32 0M51.54 487.49a0.66 0.66 0 1 0 1.32 0a0.66 0.66 0 1 0 -1.32 0M51.76 489.17a0.66 0.66 0 1 0 1.32 0a0.66 0.66 0 1 0 -1.32 0M51.98 490.86a0.66 0.66 0 1 0 1.32 0a0.66 0.66 0 1 0 -1.32 0M52.20 492.54a0.66 0.66 0 1 0 1.32 0a0.66 0.66 0 1 0 -1.32 0M52.42 494.23a0.66 0.66 0 1 0 1.32 0a0.66 0.66 0 1 0 -1.32 0M52.64 495.91a0.66 0.66 0 1 0 1.32 0a0.66 0.66 0 1 0 -1.32 0M52.86 497.60a0.66 0.66 0 1 0 1.32 0a0.66 0.66 0 1 0 -1.32 0M53.08 499.29a0.66 0.66 0 1 0 1.32 0a0.66 0.66 0 1 0 -1.32 0M53.30 500.97a0.66 0.66 0 1 0 1.32 0a0.66 0.66 0 1 0 -1.32 0" fill="#000"/>
<path d="M29.0 382.9 L30.4 392.6 L31.1 396.3 L31.8 399.2 L32.6 401.7 L33.4 403.5 L34.3 404.9 L35.5 406.3 L38.0 408.3 L50.5 416.5 L61.3 424.1 L72.2 432.3 L83.6 441.4 L95.7 451.6 L109.6 463.7 L128.1 480.3 L151.3 501.3" stroke="#0c0cfa" stroke-width="1.45" fill="none" stroke-linejoin="round"/>
<path d="M29.0 379.9 L30.2 386.3 L31.3 391.2 L32.4 395.3 L33.6 398.7 L34.8 401.3 L36.2 403.3 L37.8 404.9 L39.8 406.2 L43.8 408.0 L63.6 415.7 L80.7 422.7 L97.2 429.8 L114.4 437.5 L129.3 444.4 L145.7 452.2 L214.5 485.6 L246.9 500.8" stroke="#16bf7c" stroke-width="1.45" fill="none" stroke-linejoin="round"/>
<path d="M29.0 378.3 L30.6 385.0 L32.1 390.2 L33.6 394.3 L35.1 397.4 L36.8 399.8 L38.7 401.6 L41.0 403.0 L44.0 404.1 L47.8 405.1 L54.8 406.8 L114.1 420.0 L144.5 426.6 L206.6 439.7 L236.1 446.1 L268.4 453.7 L298.4 461.2" stroke="#9a1c5c" stroke-width="1.45" fill="none" stroke-linejoin="round"/>
<path d="M29.0 376.5 L30.8 383.8 L32.5 389.2 L33.4 391.4 L34.3 393.3 L35.2 394.7 L36.2 396.0 L37.2 397.0 L38.3 397.9 L39.6 398.7 L41.1 399.3 L44.9 400.4 L51.3 401.7 L64.7 404.0 L79.3 406.1 L95.0 408.1 L112.6 410.0 L143.1 412.8 L238.5 421.0 L268.9 423.8 L298.4 426.7" stroke="#f7bb42" stroke-width="1.45" fill="none" stroke-linejoin="round"/>
<path d="M29.0 374.9 L30.9 382.5 L32.7 388.1 L33.6 390.2 L34.6 392.1 L35.7 393.7 L36.8 395.0 L37.9 395.9 L39.2 396.7 L40.7 397.5 L42.5 398.1 L47.5 399.3 L55.0 400.7 L67.0 402.3 L81.6 403.8 L100.0 405.3 L124.7 407.0 L163.5 409.5 L208.3 412.1 L253.3 414.6 L298.4 416.8" stroke="#e5165a" stroke-width="1.45" fill="none" stroke-linejoin="round"/>
</g>
<g clip-path="url(#cld)">
<path d="M344.54 310.50a0.66 0.66 0 1 0 1.32 0a0.66 0.66 0 1 0 -1.32 0M345.17 312.08a0.66 0.66 0 1 0 1.32 0a0.66 0.66 0 1 0 -1.32 0M345.80 313.66a0.66 0.66 0 1 0 1.32 0a0.66 0.66 0 1 0 -1.32 0M346.43 315.24a0.66 0.66 0 1 0 1.32 0a0.66 0.66 0 1 0 -1.32 0M347.05 316.82a0.66 0.66 0 1 0 1.32 0a0.66 0.66 0 1 0 -1.32 0M347.68 318.40a0.66 0.66 0 1 0 1.32 0a0.66 0.66 0 1 0 -1.32 0M348.31 319.98a0.66 0.66 0 1 0 1.32 0a0.66 0.66 0 1 0 -1.32 0M348.94 321.56a0.66 0.66 0 1 0 1.32 0a0.66 0.66 0 1 0 -1.32 0M349.57 323.14a0.66 0.66 0 1 0 1.32 0a0.66 0.66 0 1 0 -1.32 0M350.20 324.72a0.66 0.66 0 1 0 1.32 0a0.66 0.66 0 1 0 -1.32 0M350.83 326.30a0.66 0.66 0 1 0 1.32 0a0.66 0.66 0 1 0 -1.32 0M351.45 327.87a0.66 0.66 0 1 0 1.32 0a0.66 0.66 0 1 0 -1.32 0M352.08 329.45a0.66 0.66 0 1 0 1.32 0a0.66 0.66 0 1 0 -1.32 0M352.71 331.03a0.66 0.66 0 1 0 1.32 0a0.66 0.66 0 1 0 -1.32 0M353.34 332.61a0.66 0.66 0 1 0 1.32 0a0.66 0.66 0 1 0 -1.32 0M353.97 334.19a0.66 0.66 0 1 0 1.32 0a0.66 0.66 0 1 0 -1.32 0M354.60 335.77a0.66 0.66 0 1 0 1.32 0a0.66 0.66 0 1 0 -1.32 0M355.23 337.35a0.66 0.66 0 1 0 1.32 0a0.66 0.66 0 1 0 -1.32 0M355.85 338.93a0.66 0.66 0 1 0 1.32 0a0.66 0.66 0 1 0 -1.32 0M356.48 340.51a0.66 0.66 0 1 0 1.32 0a0.66 0.66 0 1 0 -1.32 0M357.11 342.09a0.66 0.66 0 1 0 1.32 0a0.66 0.66 0 1 0 -1.32 0M357.74 343.67a0.66 0.66 0 1 0 1.32 0a0.66 0.66 0 1 0 -1.32 0M358.37 345.25a0.66 0.66 0 1 0 1.32 0a0.66 0.66 0 1 0 -1.32 0M359.00 346.83a0.66 0.66 0 1 0 1.32 0a0.66 0.66 0 1 0 -1.32 0M359.63 348.41a0.66 0.66 0 1 0 1.32 0a0.66 0.66 0 1 0 -1.32 0M360.26 349.99a0.66 0.66 0 1 0 1.32 0a0.66 0.66 0 1 0 -1.32 0M360.88 351.57a0.66 0.66 0 1 0 1.32 0a0.66 0.66 0 1 0 -1.32 0M361.51 353.15a0.66 0.66 0 1 0 1.32 0a0.66 0.66 0 1 0 -1.32 0M362.14 354.73a0.66 0.66 0 1 0 1.32 0a0.66 0.66 0 1 0 -1.32 0M362.77 356.31a0.66 0.66 0 1 0 1.32 0a0.66 0.66 0 1 0 -1.32 0M363.40 357.89a0.66 0.66 0 1 0 1.32 0a0.66 0.66 0 1 0 -1.32 0M364.03 359.46a0.66 0.66 0 1 0 1.32 0a0.66 0.66 0 1 0 -1.32 0M364.66 361.04a0.66 0.66 0 1 0 1.32 0a0.66 0.66 0 1 0 -1.32 0M365.28 362.62a0.66 0.66 0 1 0 1.32 0a0.66 0.66 0 1 0 -1.32 0M365.91 364.20a0.66 0.66 0 1 0 1.32 0a0.66 0.66 0 1 0 -1.32 0M366.54 365.78a0.66 0.66 0 1 0 1.32 0a0.66 0.66 0 1 0 -1.32 0M367.17 367.36a0.66 0.66 0 1 0 1.32 0a0.66 0.66 0 1 0 -1.32 0M367.80 368.94a0.66 0.66 0 1 0 1.32 0a0.66 0.66 0 1 0 -1.32 0M368.43 370.52a0.66 0.66 0 1 0 1.32 0a0.66 0.66 0 1 0 -1.32 0M369.06 372.10a0.66 0.66 0 1 0 1.32 0a0.66 0.66 0 1 0 -1.32 0M369.68 373.68a0.66 0.66 0 1 0 1.32 0a0.66 0.66 0 1 0 -1.32 0M370.31 375.26a0.66 0.66 0 1 0 1.32 0a0.66 0.66 0 1 0 -1.32 0M370.94 376.84a0.66 0.66 0 1 0 1.32 0a0.66 0.66 0 1 0 -1.32 0M371.57 378.42a0.66 0.66 0 1 0 1.32 0a0.66 0.66 0 1 0 -1.32 0M372.20 380.00a0.66 0.66 0 1 0 1.32 0a0.66 0.66 0 1 0 -1.32 0M372.83 381.58a0.66 0.66 0 1 0 1.32 0a0.66 0.66 0 1 0 -1.32 0M373.46 383.16a0.66 0.66 0 1 0 1.32 0a0.66 0.66 0 1 0 -1.32 0M374.08 384.74a0.66 0.66 0 1 0 1.32 0a0.66 0.66 0 1 0 -1.32 0M374.71 386.32a0.66 0.66 0 1 0 1.32 0a0.66 0.66 0 1 0 -1.32 0M375.34 387.90a0.66 0.66 0 1 0 1.32 0a0.66 0.66 0 1 0 -1.32 0M375.97 389.48a0.66 0.66 0 1 0 1.32 0a0.66 0.66 0 1 0 -1.32 0M376.60 391.06a0.66 0.66 0 1 0 1.32 0a0.66 0.66 0 1 0 -1.32 0M377.23 392.63a0.66 0.66 0 1 0 1.32 0a0.66 0.66 0 1 0 -1.32 0M377.86 394.21a0.66 0.66 0 1 0 1.32 0a0.66 0.66 0 1 0 -1.32 0M378.48 395.79a0.66 0.66 0 1 0 1.32 0a0.66 0.66 0 1 0 -1.32 0M379.11 397.37a0.66 0.66 0 1 0 1.32 0a0.66 0.66 0 1 0 -1.32 0M379.74 398.95a0.66 0.66 0 1 0 1.32 0a0.66 0.66 0 1 0 -1.32 0M380.37 400.53a0.66 0.66 0 1 0 1.32 0a0.66 0.66 0 1 0 -1.32 0M381.00 402.11a0.66 0.66 0 1 0 1.32 0a0.66 0.66 0 1 0 -1.32 0M381.63 403.69a0.66 0.66 0 1 0 1.32 0a0.66 0.66 0 1 0 -1.32 0M382.26 405.27a0.66 0.66 0 1 0 1.32 0a0.66 0.66 0 1 0 -1.32 0M382.88 406.85a0.66 0.66 0 1 0 1.32 0a0.66 0.66 0 1 0 -1.32 0M383.51 408.43a0.66 0.66 0 1 0 1.32 0a0.66 0.66 0 1 0 -1.32 0M384.14 410.01a0.66 0.66 0 1 0 1.32 0a0.66 0.66 0 1 0 -1.32 0M384.77 411.59a0.66 0.66 0 1 0 1.32 0a0.66 0.66 0 1 0 -1.32 0M385.40 413.17a0.66 0.66 0 1 0 1.32 0a0.66 0.66 0 1 0 -1.32 0M386.03 414.75a0.66 0.66 0 1 0 1.32 0a0.66 0.66 0 1 0 -1.32 0M386.66 416.33a0.66 0.66 0 1 0 1.32 0a0.66 0.66 0 1 0 -1.32 0M387.29 417.91a0.66 0.66 0 1 0 1.32 0a0.66 0.66 0 1 0 -1.32 0M387.91 419.49a0.66 0.66 0 1 0 1.32 0a0.66 0.66 0 1 0 -1.32 0M388.54 421.07a0.66 0.66 0 1 0 1.32 0a0.66 0.66 0 1 0 -1.32 0M389.17 422.65a0.66 0.66 0 1 0 1.32 0a0.66 0.66 0 1 0 -1.32 0M389.80 424.22a0.66 0.66 0 1 0 1.32 0a0.66 0.66 0 1 0 -1.32 0M390.43 425.80a0.66 0.66 0 1 0 1.32 0a0.66 0.66 0 1 0 -1.32 0M391.06 427.38a0.66 0.66 0 1 0 1.32 0a0.66 0.66 0 1 0 -1.32 0M391.69 428.96a0.66 0.66 0 1 0 1.32 0a0.66 0.66 0 1 0 -1.32 0M392.31 430.54a0.66 0.66 0 1 0 1.32 0a0.66 0.66 0 1 0 -1.32 0M392.94 432.12a0.66 0.66 0 1 0 1.32 0a0.66 0.66 0 1 0 -1.32 0M393.57 433.70a0.66 0.66 0 1 0 1.32 0a0.66 0.66 0 1 0 -1.32 0M394.20 435.28a0.66 0.66 0 1 0 1.32 0a0.66 0.66 0 1 0 -1.32 0M394.83 436.86a0.66 0.66 0 1 0 1.32 0a0.66 0.66 0 1 0 -1.32 0M395.46 438.44a0.66 0.66 0 1 0 1.32 0a0.66 0.66 0 1 0 -1.32 0M396.09 440.02a0.66 0.66 0 1 0 1.32 0a0.66 0.66 0 1 0 -1.32 0M396.71 441.60a0.66 0.66 0 1 0 1.32 0a0.66 0.66 0 1 0 -1.32 0M397.34 443.18a0.66 0.66 0 1 0 1.32 0a0.66 0.66 0 1 0 -1.32 0M397.97 444.76a0.66 0.66 0 1 0 1.32 0a0.66 0.66 0 1 0 -1.32 0M398.60 446.34a0.66 0.66 0 1 0 1.32 0a0.66 0.66 0 1 0 -1.32 0M399.23 447.92a0.66 0.66 0 1 0 1.32 0a0.66 0.66 0 1 0 -1.32 0M399.86 449.50a0.66 0.66 0 1 0 1.32 0a0.66 0.66 0 1 0 -1.32 0M400.49 451.08a0.66 0.66 0 1 0 1.32 0a0.66 0.66 0 1 0 -1.32 0M401.11 452.66a0.66 0.66 0 1 0 1.32 0a0.66 0.66 0 1 0 -1.32 0M401.74 454.24a0.66 0.66 0 1 0 1.32 0a0.66 0.66 0 1 0 -1.32 0M402.37 455.81a0.66 0.66 0 1 0 1.32 0a0.66 0.66 0 1 0 -1.32 0M403.00 457.39a0.66 0.66 0 1 0 1.32 0a0.66 0.66 0 1 0 -1.32 0M403.63 458.97a0.66 0.66 0 1 0 1.32 0a0.66 0.66 0 1 0 -1.32 0M404.26 460.55a0.66 0.66 0 1 0 1.32 0a0.66 0.66 0 1 0 -1.32 0M404.89 462.13a0.66 0.66 0 1 0 1.32 0a0.66 0.66 0 1 0 -1.32 0M405.51 463.71a0.66 0.66 0 1 0 1.32 0a0.66 0.66 0 1 0 -1.32 0M406.14 465.29a0.66 0.66 0 1 0 1.32 0a0.66 0.66 0 1 0 -1.32 0M406.77 466.87a0.66 0.66 0 1 0 1.32 0a0.66 0.66 0 1 0 -1.32 0M407.40 468.45a0.66 0.66 0 1 0 1.32 0a0.66 0.66 0 1 0 -1.32 0M408.03 470.03a0.66 0.66 0 1 0 1.32 0a0.66 0.66 0 1 0 -1.32 0M408.66 471.61a0.66 0.66 0 1 0 1.32 0a0.66 0.66 0 1 0 -1.32 0M409.29 473.19a0.66 0.66 0 1 0 1.32 0a0.66 0.66 0 1 0 -1.32 0M409.92 474.77a0.66 0.66 0 1 0 1.32 0a0.66 0.66 0 1 0 -1.32 0M410.54 476.35a0.66 0.66 0 1 0 1.32 0a0.66 0.66 0 1 0 -1.32 0M411.17 477.93a0.66 0.66 0 1 0 1.32 0a0.66 0.66 0 1 0 -1.32 0M411.80 479.51a0.66 0.66 0 1 0 1.32 0a0.66 0.66 0 1 0 -1.32 0M412.43 481.09a0.66 0.66 0 1 0 1.32 0a0.66 0.66 0 1 0 -1.32 0M413.06 482.67a0.66 0.66 0 1 0 1.32 0a0.66 0.66 0 1 0 -1.32 0M413.69 484.25a0.66 0.66 0 1 0 1.32 0a0.66 0.66 0 1 0 -1.32 0M414.32 485.83a0.66 0.66 0 1 0 1.32 0a0.66 0.66 0 1 0 -1.32 0M414.94 487.41a0.66 0.66 0 1 0 1.32 0a0.66 0.66 0 1 0 -1.32 0M415.57 488.98a0.66 0.66 0 1 0 1.32 0a0.66 0.66 0 1 0 -1.32 0M416.20 490.56a0.66 0.66 0 1 0 1.32 0a0.66 0.66 0 1 0 -1.32 0M416.83 492.14a0.66 0.66 0 1 0 1.32 0a0.66 0.66 0 1 0 -1.32 0M417.46 493.72a0.66 0.66 0 1 0 1.32 0a0.66 0.66 0 1 0 -1.32 0M418.09 495.30a0.66 0.66 0 1 0 1.32 0a0.66 0.66 0 1 0 -1.32 0M418.72 496.88a0.66 0.66 0 1 0 1.32 0a0.66 0.66 0 1 0 -1.32 0M419.34 498.46a0.66 0.66 0 1 0 1.32 0a0.66 0.66 0 1 0 -1.32 0M419.97 500.04a0.66 0.66 0 1 0 1.32 0a0.66 0.66 0 1 0 -1.32 0M420.60 501.62a0.66 0.66 0 1 0 1.32 0a0.66 0.66 0 1 0 -1.32 0" fill="#000"/>
<path d="M345.2 310.4 L370.1 373.5 L381.8 402.2 L387.3 414.9 L392.4 426.2 L397.3 436.3 L402.2 445.7 L407.7 455.5 L413.2 464.3 L418.8 472.4 L424.4 479.5 L430.0 485.8 L435.7 491.4 L441.7 496.4 L448.4 501.3" stroke="#0c0cfa" stroke-width="1.45" fill="none" stroke-linejoin="round"/>
<path d="M345.2 310.6 L359.3 345.8 L368.5 368.2 L376.3 386.3 L383.2 401.2 L386.7 408.3 L390.1 414.8 L393.6 421.2 L397.1 427.1 L400.7 432.9 L404.4 438.5 L408.2 443.9 L412.0 448.9 L415.8 453.6 L419.6 458.0 L423.4 462.1 L427.1 465.8 L430.8 469.2 L434.6 472.3 L438.4 475.2 L442.4 477.9 L446.0 480.1 L449.9 482.2 L458.7 486.5 L467.5 490.2 L492.9 500.4" stroke="#16bf7c" stroke-width="1.45" fill="none" stroke-linejoin="round"/>
<path d="M345.2 310.5 L357.1 340.7 L362.2 353.2 L367.0 364.4 L371.5 374.5 L375.8 383.7 L380.0 392.1 L384.1 399.8 L388.3 407.1 L392.6 414.1 L397.0 420.6 L401.5 426.7 L406.1 432.4 L410.9 437.9 L415.8 442.9 L420.9 447.7 L426.2 452.2 L431.7 456.3 L437.4 460.2 L443.4 463.8 L449.8 467.3 L456.7 470.6 L464.2 473.9 L472.3 477.1 L481.6 480.4 L491.5 483.6 L502.0 486.7 L512.9 489.7 L524.0 492.4 L535.2 494.9 L546.5 497.2 L557.9 499.2" stroke="#9a1c5c" stroke-width="1.45" fill="none" stroke-linejoin="round"/>
<path d="M345.2 310.4 L351.9 327.6 L357.7 342.1 L363.0 354.9 L367.8 365.9 L372.3 375.6 L376.7 384.5 L381.0 392.5 L385.3 399.8 L390.0 407.1 L394.8 413.8 L399.9 420.2 L405.2 426.2 L410.8 431.9 L416.7 437.3 L422.7 442.2 L429.0 446.8 L435.8 451.2 L442.9 455.2 L450.5 458.9 L458.8 462.4 L468.0 465.9 L478.1 469.3 L489.3 472.7 L501.4 475.9 L514.8 479.2 L528.8 482.3 L543.0 485.2 L557.3 487.7 L571.6 489.9 L586.0 491.9 L600.3 493.5 L614.7 494.8" stroke="#f7bb42" stroke-width="1.45" fill="none" stroke-linejoin="round"/>
<path d="M345.2 310.5 L351.6 326.9 L357.2 340.8 L362.3 352.9 L367.0 363.6 L371.5 373.2 L375.9 382.0 L380.2 389.9 L384.5 397.1 L389.1 404.2 L393.9 410.9 L398.9 417.1 L404.1 423.0 L409.5 428.5 L415.2 433.6 L421.0 438.3 L427.1 442.6 L434.0 446.9 L441.4 450.9 L449.4 454.7 L458.3 458.4 L468.2 462.0 L479.2 465.6 L491.3 469.2 L504.1 472.7 L517.6 475.9 L531.3 478.9 L545.1 481.6 L559.0 484.0 L572.9 486.1 L586.8 487.8 L600.7 489.3 L614.7 490.4" stroke="#e5165a" stroke-width="1.45" fill="none" stroke-linejoin="round"/>
</g>
<rect x="30.5" y="13.5" width="265.7" height="214.3" fill="none" stroke="#8f8f8f" stroke-width="1.4"/>
<path d="M46.48 227.8v-2M46.48 13.5v2M62.46 227.8v-2M62.46 13.5v2M78.44 227.8v-2M78.44 13.5v2M94.42 227.8v-2M94.42 13.5v2M110.4 227.8v-4M110.4 13.5v4M126.38 227.8v-2M126.38 13.5v2M142.36 227.8v-2M142.36 13.5v2M158.34 227.8v-2M158.34 13.5v2M174.32 227.8v-2M174.32 13.5v2M190.3 227.8v-4M190.3 13.5v4M206.28 227.8v-2M206.28 13.5v2M222.26 227.8v-2M222.26 13.5v2M238.24 227.8v-2M238.24 13.5v2M254.22 227.8v-2M254.22 13.5v2M270.2 227.8v-4M270.2 13.5v4M286.18 227.8v-2M286.18 13.5v2M30.5 20.64h2M296.2 20.64h-2M30.5 27.79h2M296.2 27.79h-2M30.5 34.93h2M296.2 34.93h-2M30.5 42.07h2M296.2 42.07h-2M30.5 49.22h4M296.2 49.22h-4M30.5 56.36h2M296.2 56.36h-2M30.5 63.5h2M296.2 63.5h-2M30.5 70.65h2M296.2 70.65h-2M30.5 77.79h2M296.2 77.79h-2M30.5 84.93h4M296.2 84.93h-4M30.5 92.08h2M296.2 92.08h-2M30.5 99.22h2M296.2 99.22h-2M30.5 106.36h2M296.2 106.36h-2M30.5 113.51h2M296.2 113.51h-2M30.5 120.65h4M296.2 120.65h-4M30.5 127.79h2M296.2 127.79h-2M30.5 134.94h2M296.2 134.94h-2M30.5 142.08h2M296.2 142.08h-2M30.5 149.22h2M296.2 149.22h-2M30.5 156.37h4M296.2 156.37h-4M30.5 163.51h2M296.2 163.51h-2M30.5 170.65h2M296.2 170.65h-2M30.5 177.8h2M296.2 177.8h-2M30.5 184.94h2M296.2 184.94h-2M30.5 192.08h4M296.2 192.08h-4M30.5 199.23h2M296.2 199.23h-2M30.5 206.37h2M296.2 206.37h-2M30.5 213.51h2M296.2 213.51h-2M30.5 220.66h2M296.2 220.66h-2" stroke="#4a4a4a" stroke-width="1" fill="none"/>
<rect x="343.3" y="13.3" width="266" height="214.1" fill="none" stroke="#8f8f8f" stroke-width="1.4"/>
<path d="M356.6 227.4v-2M356.6 13.3v2M369.9 227.4v-2M369.9 13.3v2M383.2 227.4v-2M383.2 13.3v2M396.5 227.4v-2M396.5 13.3v2M409.8 227.4v-4M409.8 13.3v4M423.1 227.4v-2M423.1 13.3v2M436.4 227.4v-2M436.4 13.3v2M449.7 227.4v-2M449.7 13.3v2M463 227.4v-2M463 13.3v2M476.3 227.4v-4M476.3 13.3v4M489.6 227.4v-2M489.6 13.3v2M502.9 227.4v-2M502.9 13.3v2M516.2 227.4v-2M516.2 13.3v2M529.5 227.4v-2M529.5 13.3v2M542.8 227.4v-4M542.8 13.3v4M556.1 227.4v-2M556.1 13.3v2M569.4 227.4v-2M569.4 13.3v2M582.7 227.4v-2M582.7 13.3v2M596 227.4v-2M596 13.3v2M343.3 18.65h2M609.3 18.65h-2M343.3 24.01h2M609.3 24.01h-2M343.3 29.36h2M609.3 29.36h-2M343.3 34.71h2M609.3 34.71h-2M343.3 40.06h4M609.3 40.06h-4M343.3 45.42h2M609.3 45.42h-2M343.3 50.77h2M609.3 50.77h-2M343.3 56.12h2M609.3 56.12h-2M343.3 61.47h2M609.3 61.47h-2M343.3 66.83h4M609.3 66.83h-4M343.3 72.18h2M609.3 72.18h-2M343.3 77.53h2M609.3 77.53h-2M343.3 82.88h2M609.3 82.88h-2M343.3 88.23h2M609.3 88.23h-2M343.3 93.59h4M609.3 93.59h-4M343.3 98.94h2M609.3 98.94h-2M343.3 104.29h2M609.3 104.29h-2M343.3 109.64h2M609.3 109.64h-2M343.3 115h2M609.3 115h-2M343.3 120.35h4M609.3 120.35h-4M343.3 125.7h2M609.3 125.7h-2M343.3 131.06h2M609.3 131.06h-2M343.3 136.41h2M609.3 136.41h-2M343.3 141.76h2M609.3 141.76h-2M343.3 147.11h4M609.3 147.11h-4M343.3 152.47h2M609.3 152.47h-2M343.3 157.82h2M609.3 157.82h-2M343.3 163.17h2M609.3 163.17h-2M343.3 168.52h2M609.3 168.52h-2M343.3 173.88h4M609.3 173.88h-4M343.3 179.23h2M609.3 179.23h-2M343.3 184.58h2M609.3 184.58h-2M343.3 189.93h2M609.3 189.93h-2M343.3 195.29h2M609.3 195.29h-2M343.3 200.64h4M609.3 200.64h-4M343.3 205.99h2M609.3 205.99h-2M343.3 211.34h2M609.3 211.34h-2M343.3 216.7h2M609.3 216.7h-2M343.3 222.05h2M609.3 222.05h-2" stroke="#4a4a4a" stroke-width="1" fill="none"/>
<rect x="29" y="284.2" width="266" height="214.1" fill="none" stroke="#8f8f8f" stroke-width="1.4"/>
<path d="M37.87 498.3v-2M37.87 284.2v2M46.73 498.3v-2M46.73 284.2v2M55.6 498.3v-2M55.6 284.2v2M64.47 498.3v-2M64.47 284.2v2M73.33 498.3v-4M73.33 284.2v4M82.2 498.3v-2M82.2 284.2v2M91.07 498.3v-2M91.07 284.2v2M99.93 498.3v-2M99.93 284.2v2M108.8 498.3v-2M108.8 284.2v2M117.67 498.3v-4M117.67 284.2v4M126.53 498.3v-2M126.53 284.2v2M135.4 498.3v-2M135.4 284.2v2M144.27 498.3v-2M144.27 284.2v2M153.13 498.3v-2M153.13 284.2v2M162 498.3v-4M162 284.2v4M170.87 498.3v-2M170.87 284.2v2M179.73 498.3v-2M179.73 284.2v2M188.6 498.3v-2M188.6 284.2v2M197.47 498.3v-2M197.47 284.2v2M206.33 498.3v-4M206.33 284.2v4M215.2 498.3v-2M215.2 284.2v2M224.07 498.3v-2M224.07 284.2v2M232.93 498.3v-2M232.93 284.2v2M241.8 498.3v-2M241.8 284.2v2M250.67 498.3v-4M250.67 284.2v4M259.53 498.3v-2M259.53 284.2v2M268.4 498.3v-2M268.4 284.2v2M277.27 498.3v-2M277.27 284.2v2M286.13 498.3v-2M286.13 284.2v2M29 291.34h2M295 291.34h-2M29 298.47h2M295 298.47h-2M29 305.61h2M295 305.61h-2M29 312.75h2M295 312.75h-2M29 319.88h4M295 319.88h-4M29 327.02h2M295 327.02h-2M29 334.16h2M295 334.16h-2M29 341.29h2M295 341.29h-2M29 348.43h2M295 348.43h-2M29 355.57h4M295 355.57h-4M29 362.7h2M295 362.7h-2M29 369.84h2M295 369.84h-2M29 376.98h2M295 376.98h-2M29 384.11h2M295 384.11h-2M29 391.25h4M295 391.25h-4M29 398.39h2M295 398.39h-2M29 405.52h2M295 405.52h-2M29 412.66h2M295 412.66h-2M29 419.8h2M295 419.8h-2M29 426.93h4M295 426.93h-4M29 434.07h2M295 434.07h-2M29 441.21h2M295 441.21h-2M29 448.34h2M295 448.34h-2M29 455.48h2M295 455.48h-2M29 462.62h4M295 462.62h-4M29 469.75h2M295 469.75h-2M29 476.89h2M295 476.89h-2M29 484.03h2M295 484.03h-2M29 491.16h2M295 491.16h-2" stroke="#4a4a4a" stroke-width="1" fill="none"/>
<rect x="345.2" y="284.1" width="266.2" height="214.2" fill="none" stroke="#8f8f8f" stroke-width="1.4"/>
<path d="M354.07 498.3v-2M354.07 284.1v2M362.95 498.3v-2M362.95 284.1v2M371.82 498.3v-2M371.82 284.1v2M380.69 498.3v-2M380.69 284.1v2M389.57 498.3v-4M389.57 284.1v4M398.44 498.3v-2M398.44 284.1v2M407.31 498.3v-2M407.31 284.1v2M416.19 498.3v-2M416.19 284.1v2M425.06 498.3v-2M425.06 284.1v2M433.93 498.3v-4M433.93 284.1v4M442.81 498.3v-2M442.81 284.1v2M451.68 498.3v-2M451.68 284.1v2M460.55 498.3v-2M460.55 284.1v2M469.43 498.3v-2M469.43 284.1v2M478.3 498.3v-4M478.3 284.1v4M487.17 498.3v-2M487.17 284.1v2M496.05 498.3v-2M496.05 284.1v2M504.92 498.3v-2M504.92 284.1v2M513.79 498.3v-2M513.79 284.1v2M522.67 498.3v-4M522.67 284.1v4M531.54 498.3v-2M531.54 284.1v2M540.41 498.3v-2M540.41 284.1v2M549.29 498.3v-2M549.29 284.1v2M558.16 498.3v-2M558.16 284.1v2M567.03 498.3v-4M567.03 284.1v4M575.91 498.3v-2M575.91 284.1v2M584.78 498.3v-2M584.78 284.1v2M593.65 498.3v-2M593.65 284.1v2M602.53 498.3v-2M602.53 284.1v2M345.2 291.24h2M611.4 291.24h-2M345.2 298.38h2M611.4 298.38h-2M345.2 305.52h2M611.4 305.52h-2M345.2 312.66h2M611.4 312.66h-2M345.2 319.8h4M611.4 319.8h-4M345.2 326.94h2M611.4 326.94h-2M345.2 334.08h2M611.4 334.08h-2M345.2 341.22h2M611.4 341.22h-2M345.2 348.36h2M611.4 348.36h-2M345.2 355.5h4M611.4 355.5h-4M345.2 362.64h2M611.4 362.64h-2M345.2 369.78h2M611.4 369.78h-2M345.2 376.92h2M611.4 376.92h-2M345.2 384.06h2M611.4 384.06h-2M345.2 391.2h4M611.4 391.2h-4M345.2 398.34h2M611.4 398.34h-2M345.2 405.48h2M611.4 405.48h-2M345.2 412.62h2M611.4 412.62h-2M345.2 419.76h2M611.4 419.76h-2M345.2 426.9h4M611.4 426.9h-4M345.2 434.04h2M611.4 434.04h-2M345.2 441.18h2M611.4 441.18h-2M345.2 448.32h2M611.4 448.32h-2M345.2 455.46h2M611.4 455.46h-2M345.2 462.6h4M611.4 462.6h-4M345.2 469.74h2M611.4 469.74h-2M345.2 476.88h2M611.4 476.88h-2M345.2 484.02h2M611.4 484.02h-2M345.2 491.16h2M611.4 491.16h-2" stroke="#4a4a4a" stroke-width="1" fill="none"/>
<g transform="translate(134.24,8.85) scale(0.9528,1.0250)" fill="#151515" color="#151515" stroke="#151515" stroke-width="0.3"><text font-size="11.3">#101053</text></g>
<g transform="translate(446.94,8.85) scale(0.9528,1.0250)" fill="#151515" color="#151515" stroke="#151515" stroke-width="0.3"><text font-size="11.3">#101053</text></g>
<g transform="translate(133.04,279.45) scale(0.9528,1.0250)" fill="#151515" color="#151515" stroke="#151515" stroke-width="0.3"><text font-size="11.3">#101740</text></g>
<g transform="translate(449.19,279.45) scale(0.9528,1.0250)" fill="#151515" color="#151515" stroke="#151515" stroke-width="0.3"><text font-size="11.3">#101740</text></g>
<g transform="translate(272.42,28.77) scale(0.9192,1.0075)" fill="#151515" color="#151515" stroke="#151515" stroke-width="0.3"><text font-size="11">(a)</text></g>
<g transform="translate(585.62,28.07) scale(0.9192,1.0075)" fill="#151515" color="#151515" stroke="#151515" stroke-width="0.3"><text font-size="11">(b)</text></g>
<g transform="translate(270.27,299.07) scale(0.9192,1.0075)" fill="#151515" color="#151515" stroke="#151515" stroke-width="0.3"><text font-size="11">(c)</text></g>
<g transform="translate(587.57,298.92) scale(0.9192,1.0075)" fill="#151515" color="#151515" stroke="#151515" stroke-width="0.3"><text font-size="11">(d)</text></g>
<g transform="translate(142.11,253.72) scale(0.8805,1.0225)" fill="#151515" color="#151515" stroke="#151515" stroke-width="0.3"><text font-size="10.5">E(keV)</text></g>
<g transform="translate(458.71,252.77) scale(0.8805,1.0225)" fill="#151515" color="#151515" stroke="#151515" stroke-width="0.3"><text font-size="10.5">E(keV)</text></g>
<g transform="translate(141.71,522.72) scale(0.8805,1.0225)" fill="#151515" color="#151515" stroke="#151515" stroke-width="0.3"><text font-size="10.5">E(keV)</text></g>
<g transform="translate(457.86,522.72) scale(0.8805,1.0225)" fill="#151515" color="#151515" stroke="#151515" stroke-width="0.3"><text font-size="10.5">E(keV)</text></g>
<g transform="translate(11.01,170.81) scale(0.9917,1.0139) rotate(-90)" fill="#151515" color="#151515" stroke="#151515" stroke-width="0.3"><text font-size="12.3">Ion distribution</text></g>
<g transform="translate(323.81,170.21) scale(0.9917,1.0139) rotate(-90)" fill="#151515" color="#151515" stroke="#151515" stroke-width="0.3"><text font-size="12.3">Ion distribution</text></g>
<g transform="translate(9.56,441.41) scale(0.9917,1.0139) rotate(-90)" fill="#151515" color="#151515" stroke="#151515" stroke-width="0.3"><text font-size="12.3">Ion distribution</text></g>
<g transform="translate(325.91,441.41) scale(0.9917,1.0139) rotate(-90)" fill="#151515" color="#151515" stroke="#151515" stroke-width="0.3"><text font-size="12.3">Ion distribution</text></g>
<g transform="translate(46.92,51.01) scale(1.0033,0.9875)" fill="#151515" color="#151515" stroke="#151515" stroke-width="0.3"><text transform="scale(0.94,1)" x="-0.85" font-size="12">log</text><text transform="translate(19.75,2.90) scale(0.95,1)" font-size="7.6" text-anchor="middle">10</text><text transform="translate(25.35,0.00) scale(1.0,1)" font-size="12" text-anchor="middle">(</text><text transform="translate(28.15,0.00) scale(1.0,1)" font-size="12" text-anchor="middle">|</text><text transform="translate(32.55,0.00) scale(0.8,1)" font-size="11" text-anchor="middle">F</text><text transform="translate(37.60,3.10) scale(1.0,1)" font-size="7.6" text-anchor="middle">H</text><text transform="translate(41.80,0.00) scale(1.0,1)" font-size="12" text-anchor="middle">|</text><text transform="translate(44.75,0.00) scale(1.0,1)" font-size="12" text-anchor="middle">)</text></g>
<g transform="translate(359.93,50.91) scale(1.0033,0.9875)" fill="#151515" color="#151515" stroke="#151515" stroke-width="0.3"><text transform="scale(0.94,1)" x="-0.85" font-size="12">log</text><text transform="translate(19.75,2.90) scale(0.95,1)" font-size="7.6" text-anchor="middle">10</text><text transform="translate(25.35,0.00) scale(1.0,1)" font-size="12" text-anchor="middle">(</text><text transform="translate(28.15,0.00) scale(1.0,1)" font-size="12" text-anchor="middle">|</text><text transform="translate(32.55,0.00) scale(0.8,1)" font-size="11" text-anchor="middle">F</text><text transform="translate(37.60,3.10) scale(1.0,1)" font-size="7.6" text-anchor="middle">D</text><text transform="translate(41.80,0.00) scale(1.0,1)" font-size="12" text-anchor="middle">|</text><text transform="translate(44.75,0.00) scale(1.0,1)" font-size="12" text-anchor="middle">)</text></g>
<g transform="translate(45.17,322.11) scale(1.0033,0.9875)" fill="#151515" color="#151515" stroke="#151515" stroke-width="0.3"><text transform="scale(0.94,1)" x="-0.85" font-size="12">log</text><text transform="translate(19.75,2.90) scale(0.95,1)" font-size="7.6" text-anchor="middle">10</text><text transform="translate(25.35,0.00) scale(1.0,1)" font-size="12" text-anchor="middle">(</text><text transform="translate(28.15,0.00) scale(1.0,1)" font-size="12" text-anchor="middle">|</text><text transform="translate(32.55,0.00) scale(0.8,1)" font-size="11" text-anchor="middle">F</text><text transform="translate(37.60,3.10) scale(1.0,1)" font-size="7.6" text-anchor="middle">H</text><text transform="translate(41.80,0.00) scale(1.0,1)" font-size="12" text-anchor="middle">|</text><text transform="translate(44.75,0.00) scale(1.0,1)" font-size="12" text-anchor="middle">)</text></g>
<g transform="translate(361.97,322.11) scale(1.0033,0.9875)" fill="#151515" color="#151515" stroke="#151515" stroke-width="0.3"><text transform="scale(0.94,1)" x="-0.85" font-size="12">log</text><text transform="translate(19.75,2.90) scale(0.95,1)" font-size="7.6" text-anchor="middle">10</text><text transform="translate(25.35,0.00) scale(1.0,1)" font-size="12" text-anchor="middle">(</text><text transform="translate(28.15,0.00) scale(1.0,1)" font-size="12" text-anchor="middle">|</text><text transform="translate(32.55,0.00) scale(0.8,1)" font-size="11" text-anchor="middle">F</text><text transform="translate(37.60,3.10) scale(1.0,1)" font-size="7.6" text-anchor="middle">D</text><text transform="translate(41.80,0.00) scale(1.0,1)" font-size="12" text-anchor="middle">|</text><text transform="translate(44.75,0.00) scale(1.0,1)" font-size="12" text-anchor="middle">)</text></g>
<g transform="translate(57.29,197.24) scale(0.9904,1.0159)" fill="#1f1fee" color="#1f1fee" stroke="#1f1fee" stroke-width="0.3"><text transform="translate(3.35,0.00) scale(0.9,1)" font-size="11.6" text-anchor="middle">V</text><path d="M8.10 2.60h4.80M10.50 2.60v-3.90" stroke="currentColor" stroke-width="0.95" fill="none"/><path d="M13.9 0.6L17.9 -8.3" stroke="currentColor" stroke-width="1.05" fill="none"/><text transform="translate(21.50,0.00) scale(0.9,1)" font-size="11.6" text-anchor="middle">V</text><text transform="translate(28.70,0.00) scale(0.78,1)" font-size="11.6" text-anchor="middle">=</text><text transform="translate(36.00,0.00) scale(0.85,1)" font-size="11.6" text-anchor="middle">0</text></g>
<g transform="translate(178.74,130.49) scale(1.0034,1.0159)" fill="#e3124a" color="#e3124a" stroke="#e3124a" stroke-width="0.3"><text transform="translate(3.35,0.00) scale(0.9,1)" font-size="11.6" text-anchor="middle">V</text><path d="M8.10 2.60h4.80M10.50 2.60v-3.90" stroke="currentColor" stroke-width="0.95" fill="none"/><path d="M13.9 0.6L17.9 -8.3" stroke="currentColor" stroke-width="1.05" fill="none"/><text transform="translate(21.50,0.00) scale(0.9,1)" font-size="11.6" text-anchor="middle">V</text><text transform="translate(28.70,0.00) scale(0.78,1)" font-size="11.6" text-anchor="middle">=</text><text transform="translate(35.00,0.00) scale(0.8,1)" font-size="11.6" text-anchor="middle">1</text></g>
<g transform="translate(420.14,211.19) scale(0.9904,1.0159)" fill="#1f1fee" color="#1f1fee" stroke="#1f1fee" stroke-width="0.3"><text transform="translate(3.35,0.00) scale(0.9,1)" font-size="11.6" text-anchor="middle">V</text><path d="M8.10 2.60h4.80M10.50 2.60v-3.90" stroke="currentColor" stroke-width="0.95" fill="none"/><path d="M13.9 0.6L17.9 -8.3" stroke="currentColor" stroke-width="1.05" fill="none"/><text transform="translate(21.50,0.00) scale(0.9,1)" font-size="11.6" text-anchor="middle">V</text><text transform="translate(28.70,0.00) scale(0.78,1)" font-size="11.6" text-anchor="middle">=</text><text transform="translate(36.00,0.00) scale(0.85,1)" font-size="11.6" text-anchor="middle">0</text></g>
<g transform="translate(466.09,174.24) scale(1.0034,1.0159)" fill="#e3124a" color="#e3124a" stroke="#e3124a" stroke-width="0.3"><text transform="translate(3.35,0.00) scale(0.9,1)" font-size="11.6" text-anchor="middle">V</text><path d="M8.10 2.60h4.80M10.50 2.60v-3.90" stroke="currentColor" stroke-width="0.95" fill="none"/><path d="M13.9 0.6L17.9 -8.3" stroke="currentColor" stroke-width="1.05" fill="none"/><text transform="translate(21.50,0.00) scale(0.9,1)" font-size="11.6" text-anchor="middle">V</text><text transform="translate(28.70,0.00) scale(0.78,1)" font-size="11.6" text-anchor="middle">=</text><text transform="translate(35.00,0.00) scale(0.8,1)" font-size="11.6" text-anchor="middle">1</text></g>
<g transform="translate(60.24,470.09) scale(0.9904,1.0159)" fill="#1f1fee" color="#1f1fee" stroke="#1f1fee" stroke-width="0.3"><text transform="translate(3.35,0.00) scale(0.9,1)" font-size="11.6" text-anchor="middle">V</text><path d="M8.10 2.60h4.80M10.50 2.60v-3.90" stroke="currentColor" stroke-width="0.95" fill="none"/><path d="M13.9 0.6L17.9 -8.3" stroke="currentColor" stroke-width="1.05" fill="none"/><text transform="translate(21.50,0.00) scale(0.9,1)" font-size="11.6" text-anchor="middle">V</text><text transform="translate(28.70,0.00) scale(0.78,1)" font-size="11.6" text-anchor="middle">=</text><text transform="translate(36.00,0.00) scale(0.85,1)" font-size="11.6" text-anchor="middle">0</text></g>
<g transform="translate(166.99,401.34) scale(1.0034,1.0159)" fill="#e3124a" color="#e3124a" stroke="#e3124a" stroke-width="0.3"><text transform="translate(3.35,0.00) scale(0.9,1)" font-size="11.6" text-anchor="middle">V</text><path d="M8.10 2.60h4.80M10.50 2.60v-3.90" stroke="currentColor" stroke-width="0.95" fill="none"/><path d="M13.9 0.6L17.9 -8.3" stroke="currentColor" stroke-width="1.05" fill="none"/><text transform="translate(21.50,0.00) scale(0.9,1)" font-size="11.6" text-anchor="middle">V</text><text transform="translate(28.70,0.00) scale(0.78,1)" font-size="11.6" text-anchor="middle">=</text><text transform="translate(35.00,0.00) scale(0.8,1)" font-size="11.6" text-anchor="middle">1</text></g>
<g transform="translate(382.34,485.19) scale(0.9904,1.0159)" fill="#1f1fee" color="#1f1fee" stroke="#1f1fee" stroke-width="0.3"><text transform="translate(3.35,0.00) scale(0.9,1)" font-size="11.6" text-anchor="middle">V</text><path d="M8.10 2.60h4.80M10.50 2.60v-3.90" stroke="currentColor" stroke-width="0.95" fill="none"/><path d="M13.9 0.6L17.9 -8.3" stroke="currentColor" stroke-width="1.05" fill="none"/><text transform="translate(21.50,0.00) scale(0.9,1)" font-size="11.6" text-anchor="middle">V</text><text transform="translate(28.70,0.00) scale(0.78,1)" font-size="11.6" text-anchor="middle">=</text><text transform="translate(36.00,0.00) scale(0.85,1)" font-size="11.6" text-anchor="middle">0</text></g>
<g transform="translate(471.99,459.94) scale(1.0034,1.0159)" fill="#e3124a" color="#e3124a" stroke="#e3124a" stroke-width="0.3"><text transform="translate(3.35,0.00) scale(0.9,1)" font-size="11.6" text-anchor="middle">V</text><path d="M8.10 2.60h4.80M10.50 2.60v-3.90" stroke="currentColor" stroke-width="0.95" fill="none"/><path d="M13.9 0.6L17.9 -8.3" stroke="currentColor" stroke-width="1.05" fill="none"/><text transform="translate(21.50,0.00) scale(0.9,1)" font-size="11.6" text-anchor="middle">V</text><text transform="translate(28.70,0.00) scale(0.78,1)" font-size="11.6" text-anchor="middle">=</text><text transform="translate(35.00,0.00) scale(0.8,1)" font-size="11.6" text-anchor="middle">1</text></g>
<text transform="translate(30.50,239.80) scale(0.9,1)" font-size="10.0" text-anchor="middle" fill="#151515" stroke="#151515" stroke-width="0.3">0</text>
<text transform="translate(110.40,239.80) scale(0.9,1)" font-size="10.0" text-anchor="middle" fill="#151515" stroke="#151515" stroke-width="0.3">50</text>
<text transform="translate(190.30,239.80) scale(0.9,1)" font-size="10.0" text-anchor="middle" fill="#151515" stroke="#151515" stroke-width="0.3">100</text>
<text transform="translate(270.20,239.80) scale(0.9,1)" font-size="10.0" text-anchor="middle" fill="#151515" stroke="#151515" stroke-width="0.3">150</text>
<text transform="translate(25.70,16.10) scale(0.9,1)" font-size="10.0" text-anchor="end" fill="#151515" stroke="#151515" stroke-width="0.3">0</text>
<text transform="translate(25.70,51.82) scale(0.9,1)" font-size="10.0" text-anchor="end" fill="#151515" stroke="#151515" stroke-width="0.3">-1</text>
<text transform="translate(25.70,87.53) scale(0.9,1)" font-size="10.0" text-anchor="end" fill="#151515" stroke="#151515" stroke-width="0.3">-2</text>
<text transform="translate(25.70,123.25) scale(0.9,1)" font-size="10.0" text-anchor="end" fill="#151515" stroke="#151515" stroke-width="0.3">-3</text>
<text transform="translate(25.70,158.97) scale(0.9,1)" font-size="10.0" text-anchor="end" fill="#151515" stroke="#151515" stroke-width="0.3">-4</text>
<text transform="translate(25.70,194.68) scale(0.9,1)" font-size="10.0" text-anchor="end" fill="#151515" stroke="#151515" stroke-width="0.3">-5</text>
<text transform="translate(25.70,230.40) scale(0.9,1)" font-size="10.0" text-anchor="end" fill="#151515" stroke="#151515" stroke-width="0.3">-6</text>
<text transform="translate(343.30,238.90) scale(0.9,1)" font-size="10.0" text-anchor="middle" fill="#151515" stroke="#151515" stroke-width="0.3">0</text>
<text transform="translate(409.80,238.90) scale(0.9,1)" font-size="10.0" text-anchor="middle" fill="#151515" stroke="#151515" stroke-width="0.3">10</text>
<text transform="translate(476.30,238.90) scale(0.9,1)" font-size="10.0" text-anchor="middle" fill="#151515" stroke="#151515" stroke-width="0.3">20</text>
<text transform="translate(542.80,238.90) scale(0.9,1)" font-size="10.0" text-anchor="middle" fill="#151515" stroke="#151515" stroke-width="0.3">30</text>
<text transform="translate(609.30,238.90) scale(0.9,1)" font-size="10.0" text-anchor="middle" fill="#151515" stroke="#151515" stroke-width="0.3">40</text>
<text transform="translate(338.50,15.90) scale(0.9,1)" font-size="10.0" text-anchor="end" fill="#151515" stroke="#151515" stroke-width="0.3">0</text>
<text transform="translate(338.50,42.66) scale(0.9,1)" font-size="10.0" text-anchor="end" fill="#151515" stroke="#151515" stroke-width="0.3">-1</text>
<text transform="translate(338.50,69.42) scale(0.9,1)" font-size="10.0" text-anchor="end" fill="#151515" stroke="#151515" stroke-width="0.3">-2</text>
<text transform="translate(338.50,96.19) scale(0.9,1)" font-size="10.0" text-anchor="end" fill="#151515" stroke="#151515" stroke-width="0.3">-3</text>
<text transform="translate(338.50,122.95) scale(0.9,1)" font-size="10.0" text-anchor="end" fill="#151515" stroke="#151515" stroke-width="0.3">-4</text>
<text transform="translate(338.50,149.71) scale(0.9,1)" font-size="10.0" text-anchor="end" fill="#151515" stroke="#151515" stroke-width="0.3">-5</text>
<text transform="translate(338.50,176.47) scale(0.9,1)" font-size="10.0" text-anchor="end" fill="#151515" stroke="#151515" stroke-width="0.3">-6</text>
<text transform="translate(338.50,203.24) scale(0.9,1)" font-size="10.0" text-anchor="end" fill="#151515" stroke="#151515" stroke-width="0.3">-7</text>
<text transform="translate(338.50,230.00) scale(0.9,1)" font-size="10.0" text-anchor="end" fill="#151515" stroke="#151515" stroke-width="0.3">-8</text>
<text transform="translate(29.00,510.60) scale(0.9,1)" font-size="10.0" text-anchor="middle" fill="#151515" stroke="#151515" stroke-width="0.3">0</text>
<text transform="translate(73.33,510.60) scale(0.9,1)" font-size="10.0" text-anchor="middle" fill="#151515" stroke="#151515" stroke-width="0.3">30</text>
<text transform="translate(117.67,510.60) scale(0.9,1)" font-size="10.0" text-anchor="middle" fill="#151515" stroke="#151515" stroke-width="0.3">60</text>
<text transform="translate(162.00,510.60) scale(0.9,1)" font-size="10.0" text-anchor="middle" fill="#151515" stroke="#151515" stroke-width="0.3">90</text>
<text transform="translate(206.33,510.60) scale(0.9,1)" font-size="10.0" text-anchor="middle" fill="#151515" stroke="#151515" stroke-width="0.3">120</text>
<text transform="translate(250.67,510.60) scale(0.9,1)" font-size="10.0" text-anchor="middle" fill="#151515" stroke="#151515" stroke-width="0.3">150</text>
<text transform="translate(295.00,510.60) scale(0.9,1)" font-size="10.0" text-anchor="middle" fill="#151515" stroke="#151515" stroke-width="0.3">180</text>
<text transform="translate(24.20,286.80) scale(0.9,1)" font-size="10.0" text-anchor="end" fill="#151515" stroke="#151515" stroke-width="0.3">0</text>
<text transform="translate(24.20,322.48) scale(0.9,1)" font-size="10.0" text-anchor="end" fill="#151515" stroke="#151515" stroke-width="0.3">-1</text>
<text transform="translate(24.20,358.17) scale(0.9,1)" font-size="10.0" text-anchor="end" fill="#151515" stroke="#151515" stroke-width="0.3">-2</text>
<text transform="translate(24.20,393.85) scale(0.9,1)" font-size="10.0" text-anchor="end" fill="#151515" stroke="#151515" stroke-width="0.3">-3</text>
<text transform="translate(24.20,429.53) scale(0.9,1)" font-size="10.0" text-anchor="end" fill="#151515" stroke="#151515" stroke-width="0.3">-4</text>
<text transform="translate(24.20,465.22) scale(0.9,1)" font-size="10.0" text-anchor="end" fill="#151515" stroke="#151515" stroke-width="0.3">-5</text>
<text transform="translate(24.20,500.90) scale(0.9,1)" font-size="10.0" text-anchor="end" fill="#151515" stroke="#151515" stroke-width="0.3">-6</text>
<text transform="translate(345.20,510.60) scale(0.9,1)" font-size="10.0" text-anchor="middle" fill="#151515" stroke="#151515" stroke-width="0.3">0</text>
<text transform="translate(389.57,510.60) scale(0.9,1)" font-size="10.0" text-anchor="middle" fill="#151515" stroke="#151515" stroke-width="0.3">10</text>
<text transform="translate(433.93,510.60) scale(0.9,1)" font-size="10.0" text-anchor="middle" fill="#151515" stroke="#151515" stroke-width="0.3">20</text>
<text transform="translate(478.30,510.60) scale(0.9,1)" font-size="10.0" text-anchor="middle" fill="#151515" stroke="#151515" stroke-width="0.3">30</text>
<text transform="translate(522.67,510.60) scale(0.9,1)" font-size="10.0" text-anchor="middle" fill="#151515" stroke="#151515" stroke-width="0.3">40</text>
<text transform="translate(567.03,510.60) scale(0.9,1)" font-size="10.0" text-anchor="middle" fill="#151515" stroke="#151515" stroke-width="0.3">50</text>
<text transform="translate(611.40,510.60) scale(0.9,1)" font-size="10.0" text-anchor="middle" fill="#151515" stroke="#151515" stroke-width="0.3">60</text>
<text transform="translate(340.40,286.70) scale(0.9,1)" font-size="10.0" text-anchor="end" fill="#151515" stroke="#151515" stroke-width="0.3">0</text>
<text transform="translate(340.40,322.40) scale(0.9,1)" font-size="10.0" text-anchor="end" fill="#151515" stroke="#151515" stroke-width="0.3">-1</text>
<text transform="translate(340.40,358.10) scale(0.9,1)" font-size="10.0" text-anchor="end" fill="#151515" stroke="#151515" stroke-width="0.3">-2</text>
<text transform="translate(340.40,393.80) scale(0.9,1)" font-size="10.0" text-anchor="end" fill="#151515" stroke="#151515" stroke-width="0.3">-3</text>
<text transform="translate(340.40,429.50) scale(0.9,1)" font-size="10.0" text-anchor="end" fill="#151515" stroke="#151515" stroke-width="0.3">-4</text>
<text transform="translate(340.40,465.20) scale(0.9,1)" font-size="10.0" text-anchor="end" fill="#151515" stroke="#151515" stroke-width="0.3">-5</text>
<text transform="translate(340.40,500.90) scale(0.9,1)" font-size="10.0" text-anchor="end" fill="#151515" stroke="#151515" stroke-width="0.3">-6</text>
</svg></body></html>
